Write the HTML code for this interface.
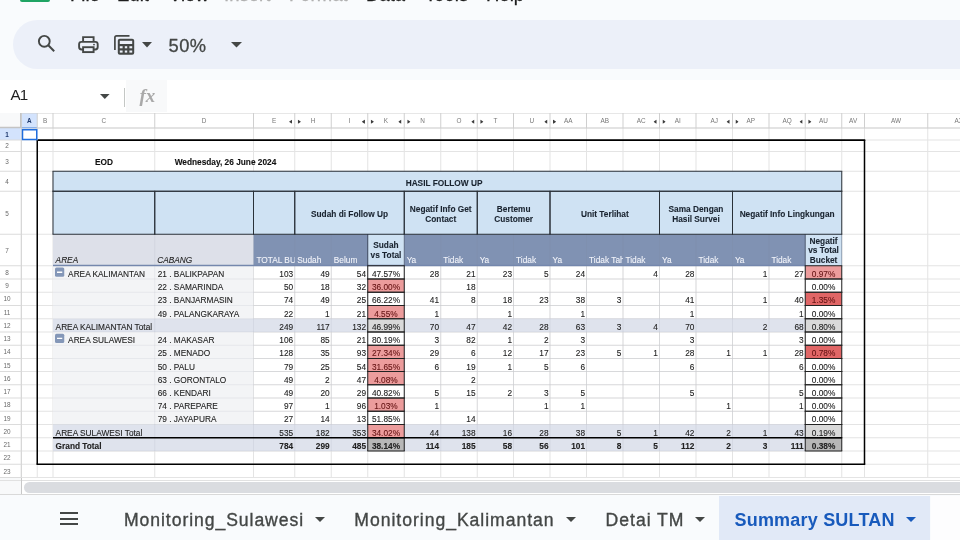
<!DOCTYPE html>
<html><head><meta charset="utf-8"><title>Sheet</title>
<style>
html,body{margin:0;padding:0;}
body{width:960px;height:540px;overflow:hidden;position:relative;background:#f9fbfd;font-family:"Liberation Sans",sans-serif;}
#top,#sheet,#bottom{position:absolute;left:0;width:960px;overflow:hidden;}
#top{top:0;height:113px;will-change:transform;}
#bottom{will-change:transform;}
#sheetwrap{position:absolute;left:0;top:0;width:960px;height:478px;overflow:hidden;will-change:transform;}
#sheet{top:0;width:3840px;height:1912px;transform:scale(0.25);transform-origin:0 0;}
#sheet div,#sheet svg,#top div,#top svg,#bottom div,#bottom svg{position:absolute;}
#sheet span{display:block;}
#sheetbg{left:0;top:113px;width:960px;height:365px;background:#fff;}
.menu{top:-14.6px;font-size:18.5px;line-height:20px;color:#1f1f1f;white-space:nowrap;-webkit-text-stroke:0.3px #1f1f1f;}
.menu.dim{-webkit-text-stroke:0.3px #b0b0b0;}
.menu.dim{color:#b0b0b0;}
.tab{top:0;height:45px;line-height:50.6px;font-size:17.6px;color:#444746;white-space:nowrap;letter-spacing:0.97px;-webkit-text-stroke:0.35px #444746;}
</style></head><body>
<div id="sheetwrap"><div id="sheet">
<div style="left:0;top:452px;width:3840px;height:1460px;background:#fff"></div>
<div style="left:82.8px;top:512px;width:4px;height:1398.16px;background:#e4e4e4"></div>
<div style="left:146.8px;top:512px;width:4px;height:1398.16px;background:#e4e4e4"></div>
<div style="left:210.4px;top:512px;width:4px;height:1398.16px;background:#e4e4e4"></div>
<div style="left:616.8px;top:512px;width:4px;height:1398.16px;background:#e4e4e4"></div>
<div style="left:1011.6px;top:512px;width:4px;height:1398.16px;background:#e4e4e4"></div>
<div style="left:1177.2px;top:512px;width:4px;height:1398.16px;background:#e4e4e4"></div>
<div style="left:1323.2px;top:512px;width:4px;height:1398.16px;background:#e4e4e4"></div>
<div style="left:1468.8px;top:512px;width:4px;height:1398.16px;background:#e4e4e4"></div>
<div style="left:1614.8px;top:512px;width:4px;height:1398.16px;background:#e4e4e4"></div>
<div style="left:1760.8px;top:512px;width:4px;height:1398.16px;background:#e4e4e4"></div>
<div style="left:1906.8px;top:512px;width:4px;height:1398.16px;background:#e4e4e4"></div>
<div style="left:2052.4px;top:512px;width:4px;height:1398.16px;background:#e4e4e4"></div>
<div style="left:2198.4px;top:512px;width:4px;height:1398.16px;background:#e4e4e4"></div>
<div style="left:2344.4px;top:512px;width:4px;height:1398.16px;background:#e4e4e4"></div>
<div style="left:2490px;top:512px;width:4px;height:1398.16px;background:#e4e4e4"></div>
<div style="left:2636px;top:512px;width:4px;height:1398.16px;background:#e4e4e4"></div>
<div style="left:2782px;top:512px;width:4px;height:1398.16px;background:#e4e4e4"></div>
<div style="left:2927.6px;top:512px;width:4px;height:1398.16px;background:#e4e4e4"></div>
<div style="left:3073.6px;top:512px;width:4px;height:1398.16px;background:#e4e4e4"></div>
<div style="left:3219.2px;top:512px;width:4px;height:1398.16px;background:#e4e4e4"></div>
<div style="left:3365.2px;top:512px;width:4px;height:1398.16px;background:#e4e4e4"></div>
<div style="left:3456px;top:512px;width:4px;height:1398.16px;background:#e4e4e4"></div>
<div style="left:3708.8px;top:512px;width:4px;height:1398.16px;background:#e4e4e4"></div>
<div style="left:84px;top:558.4px;width:3756px;height:4px;background:#e4e4e4"></div>
<div style="left:84px;top:603.6px;width:3756px;height:4px;background:#e4e4e4"></div>
<div style="left:84px;top:682.8px;width:3756px;height:4px;background:#e4e4e4"></div>
<div style="left:84px;top:763.2px;width:3756px;height:4px;background:#e4e4e4"></div>
<div style="left:84px;top:935.2px;width:3756px;height:4px;background:#e4e4e4"></div>
<div style="left:84px;top:1060.8px;width:3756px;height:4px;background:#e4e4e4"></div>
<div style="left:84px;top:1113.76px;width:3756px;height:4px;background:#e4e4e4"></div>
<div style="left:84px;top:1166.72px;width:3756px;height:4px;background:#e4e4e4"></div>
<div style="left:84px;top:1219.68px;width:3756px;height:4px;background:#e4e4e4"></div>
<div style="left:84px;top:1272.64px;width:3756px;height:4px;background:#e4e4e4"></div>
<div style="left:84px;top:1325.6px;width:3756px;height:4px;background:#e4e4e4"></div>
<div style="left:84px;top:1378.56px;width:3756px;height:4px;background:#e4e4e4"></div>
<div style="left:84px;top:1431.52px;width:3756px;height:4px;background:#e4e4e4"></div>
<div style="left:84px;top:1484.48px;width:3756px;height:4px;background:#e4e4e4"></div>
<div style="left:84px;top:1537.44px;width:3756px;height:4px;background:#e4e4e4"></div>
<div style="left:84px;top:1590.4px;width:3756px;height:4px;background:#e4e4e4"></div>
<div style="left:84px;top:1643.36px;width:3756px;height:4px;background:#e4e4e4"></div>
<div style="left:84px;top:1696.32px;width:3756px;height:4px;background:#e4e4e4"></div>
<div style="left:84px;top:1749.28px;width:3756px;height:4px;background:#e4e4e4"></div>
<div style="left:84px;top:1802.24px;width:3756px;height:4px;background:#e4e4e4"></div>
<div style="left:84px;top:1855.2px;width:3756px;height:4px;background:#e4e4e4"></div>
<div style="left:84px;top:1908.16px;width:3756px;height:4px;background:#e4e4e4"></div>
<div style="left:212.4px;top:684.8px;width:3154.8px;height:252.4px;background:#cfe2f3"></div>
<div style="left:212.4px;top:937.2px;width:801.2px;height:125.6px;background:#dde0e9"></div>
<div style="left:1013.6px;top:937.2px;width:2353.6px;height:125.6px;background:#8092b3"></div>
<div style="left:1470.8px;top:937.2px;width:146px;height:125.6px;background:#cfe2f3"></div>
<div style="left:3221.2px;top:937.2px;width:146px;height:125.6px;background:#cfe2f3"></div>
<div style="left:212.4px;top:1062.8px;width:801.2px;height:635.52px;background:#f3f4f6"></div>
<div style="left:212.4px;top:1274.64px;width:3154.8px;height:52.96px;background:#dfe3ed"></div>
<div style="left:212.4px;top:1698.32px;width:3154.8px;height:52.96px;background:#dfe3ed"></div>
<div style="left:212.4px;top:1751.28px;width:3154.8px;height:52.96px;background:#dfe3ed"></div>
<div style="left:1470.8px;top:1115.76px;width:146px;height:52.96px;background:#ec9c9c"></div>
<div style="left:1470.8px;top:1221.68px;width:146px;height:52.96px;background:#ec9c9c"></div>
<div style="left:1470.8px;top:1380.56px;width:146px;height:52.96px;background:#ec9c9c"></div>
<div style="left:1470.8px;top:1433.52px;width:146px;height:52.96px;background:#ec9c9c"></div>
<div style="left:1470.8px;top:1486.48px;width:146px;height:52.96px;background:#ec9c9c"></div>
<div style="left:1470.8px;top:1592.4px;width:146px;height:52.96px;background:#ec9c9c"></div>
<div style="left:1470.8px;top:1698.32px;width:146px;height:52.96px;background:#ec9c9c"></div>
<div style="left:1470.8px;top:1274.64px;width:146px;height:52.96px;background:#d9d9d9"></div>
<div style="left:1470.8px;top:1751.28px;width:146px;height:52.96px;background:#b7b7b7"></div>
<div style="left:3221.2px;top:1062.8px;width:146px;height:52.96px;background:#ec9c9c"></div>
<div style="left:3221.2px;top:1168.72px;width:146px;height:52.96px;background:#e06666"></div>
<div style="left:3221.2px;top:1380.56px;width:146px;height:52.96px;background:#e06666"></div>
<div style="left:3221.2px;top:1115.76px;width:146px;height:52.96px;background:#ffffff"></div>
<div style="left:3221.2px;top:1221.68px;width:146px;height:52.96px;background:#ffffff"></div>
<div style="left:3221.2px;top:1327.6px;width:146px;height:52.96px;background:#ffffff"></div>
<div style="left:3221.2px;top:1433.52px;width:146px;height:52.96px;background:#ffffff"></div>
<div style="left:3221.2px;top:1486.48px;width:146px;height:52.96px;background:#ffffff"></div>
<div style="left:3221.2px;top:1539.44px;width:146px;height:52.96px;background:#ffffff"></div>
<div style="left:3221.2px;top:1592.4px;width:146px;height:52.96px;background:#ffffff"></div>
<div style="left:3221.2px;top:1645.36px;width:146px;height:52.96px;background:#ffffff"></div>
<div style="left:1470.8px;top:1062.8px;width:146px;height:52.96px;background:#ffffff"></div>
<div style="left:1470.8px;top:1168.72px;width:146px;height:52.96px;background:#ffffff"></div>
<div style="left:1470.8px;top:1327.6px;width:146px;height:52.96px;background:#ffffff"></div>
<div style="left:1470.8px;top:1539.44px;width:146px;height:52.96px;background:#ffffff"></div>
<div style="left:1470.8px;top:1645.36px;width:146px;height:52.96px;background:#ffffff"></div>
<div style="left:3221.2px;top:1274.64px;width:146px;height:52.96px;background:#d9d9d9"></div>
<div style="left:3221.2px;top:1698.32px;width:146px;height:52.96px;background:#d9d9d9"></div>
<div style="left:3221.2px;top:1751.28px;width:146px;height:52.96px;background:#b7b7b7"></div>
<div style="left:212.4px;top:1113.76px;width:3154.8px;height:4px;background:rgba(120,130,150,0.10)"></div>
<div style="left:212.4px;top:1166.72px;width:3154.8px;height:4px;background:rgba(120,130,150,0.10)"></div>
<div style="left:212.4px;top:1219.68px;width:3154.8px;height:4px;background:rgba(120,130,150,0.10)"></div>
<div style="left:212.4px;top:1272.64px;width:3154.8px;height:4px;background:rgba(120,130,150,0.10)"></div>
<div style="left:212.4px;top:1325.6px;width:3154.8px;height:4px;background:rgba(120,130,150,0.10)"></div>
<div style="left:212.4px;top:1378.56px;width:3154.8px;height:4px;background:rgba(120,130,150,0.10)"></div>
<div style="left:212.4px;top:1431.52px;width:3154.8px;height:4px;background:rgba(120,130,150,0.10)"></div>
<div style="left:212.4px;top:1484.48px;width:3154.8px;height:4px;background:rgba(120,130,150,0.10)"></div>
<div style="left:212.4px;top:1537.44px;width:3154.8px;height:4px;background:rgba(120,130,150,0.10)"></div>
<div style="left:212.4px;top:1590.4px;width:3154.8px;height:4px;background:rgba(120,130,150,0.10)"></div>
<div style="left:212.4px;top:1643.36px;width:3154.8px;height:4px;background:rgba(120,130,150,0.10)"></div>
<div style="left:212.4px;top:1696.32px;width:3154.8px;height:4px;background:rgba(120,130,150,0.10)"></div>
<div style="left:212.4px;top:1749.28px;width:3154.8px;height:4px;background:rgba(120,130,150,0.10)"></div>
<div style="left:212.4px;top:1802.24px;width:3154.8px;height:4px;background:rgba(120,130,150,0.10)"></div>
<div style="left:616.8px;top:937.2px;width:4px;height:867.04px;background:rgba(120,130,150,0.10)"></div>
<div style="left:1011.6px;top:937.2px;width:4px;height:867.04px;background:rgba(120,130,150,0.10)"></div>
<div style="left:1177.2px;top:937.2px;width:4px;height:867.04px;background:rgba(120,130,150,0.10)"></div>
<div style="left:1323.2px;top:937.2px;width:4px;height:867.04px;background:rgba(120,130,150,0.10)"></div>
<div style="left:1468.8px;top:937.2px;width:4px;height:867.04px;background:rgba(120,130,150,0.10)"></div>
<div style="left:1614.8px;top:937.2px;width:4px;height:867.04px;background:rgba(120,130,150,0.10)"></div>
<div style="left:1760.8px;top:937.2px;width:4px;height:867.04px;background:rgba(120,130,150,0.10)"></div>
<div style="left:1906.8px;top:937.2px;width:4px;height:867.04px;background:rgba(120,130,150,0.10)"></div>
<div style="left:2052.4px;top:937.2px;width:4px;height:867.04px;background:rgba(120,130,150,0.10)"></div>
<div style="left:2198.4px;top:937.2px;width:4px;height:867.04px;background:rgba(120,130,150,0.10)"></div>
<div style="left:2344.4px;top:937.2px;width:4px;height:867.04px;background:rgba(120,130,150,0.10)"></div>
<div style="left:2490px;top:937.2px;width:4px;height:867.04px;background:rgba(120,130,150,0.10)"></div>
<div style="left:2636px;top:937.2px;width:4px;height:867.04px;background:rgba(120,130,150,0.10)"></div>
<div style="left:2782px;top:937.2px;width:4px;height:867.04px;background:rgba(120,130,150,0.10)"></div>
<div style="left:2927.6px;top:937.2px;width:4px;height:867.04px;background:rgba(120,130,150,0.10)"></div>
<div style="left:3073.6px;top:937.2px;width:4px;height:867.04px;background:rgba(120,130,150,0.10)"></div>
<div style="left:3219.2px;top:937.2px;width:4px;height:867.04px;background:rgba(120,130,150,0.10)"></div>
<div style="left:212.4px;top:1058.6px;width:3008.8px;height:6px;background:#7487ad"></div>
<div style="left:210.4px;top:682.8px;width:3158.8px;height:4px;background:#2a3138"></div>
<div style="left:210.4px;top:763.2px;width:3158.8px;height:4px;background:#2a3138"></div>
<div style="left:210.4px;top:684.8px;width:4px;height:80.4px;background:#2a3138"></div>
<div style="left:3365.2px;top:684.8px;width:4px;height:80.4px;background:#2a3138"></div>
<div style="left:210.4px;top:763.2px;width:410.4px;height:4px;background:#2a3138"></div>
<div style="left:210.4px;top:935.2px;width:410.4px;height:4px;background:#2a3138"></div>
<div style="left:210.4px;top:765.2px;width:4px;height:172px;background:#2a3138"></div>
<div style="left:616.8px;top:765.2px;width:4px;height:172px;background:#2a3138"></div>
<div style="left:616.8px;top:763.2px;width:398.8px;height:4px;background:#2a3138"></div>
<div style="left:616.8px;top:935.2px;width:398.8px;height:4px;background:#2a3138"></div>
<div style="left:616.8px;top:765.2px;width:4px;height:172px;background:#2a3138"></div>
<div style="left:1011.6px;top:765.2px;width:4px;height:172px;background:#2a3138"></div>
<div style="left:1011.6px;top:763.2px;width:169.6px;height:4px;background:#2a3138"></div>
<div style="left:1011.6px;top:935.2px;width:169.6px;height:4px;background:#2a3138"></div>
<div style="left:1011.6px;top:765.2px;width:4px;height:172px;background:#2a3138"></div>
<div style="left:1177.2px;top:765.2px;width:4px;height:172px;background:#2a3138"></div>
<div style="left:1177.2px;top:763.2px;width:441.6px;height:4px;background:#2a3138"></div>
<div style="left:1177.2px;top:935.2px;width:441.6px;height:4px;background:#2a3138"></div>
<div style="left:1177.2px;top:765.2px;width:4px;height:172px;background:#2a3138"></div>
<div style="left:1614.8px;top:765.2px;width:4px;height:172px;background:#2a3138"></div>
<div style="left:1614.8px;top:763.2px;width:296px;height:4px;background:#2a3138"></div>
<div style="left:1614.8px;top:935.2px;width:296px;height:4px;background:#2a3138"></div>
<div style="left:1614.8px;top:765.2px;width:4px;height:172px;background:#2a3138"></div>
<div style="left:1906.8px;top:765.2px;width:4px;height:172px;background:#2a3138"></div>
<div style="left:1906.8px;top:763.2px;width:295.6px;height:4px;background:#2a3138"></div>
<div style="left:1906.8px;top:935.2px;width:295.6px;height:4px;background:#2a3138"></div>
<div style="left:1906.8px;top:765.2px;width:4px;height:172px;background:#2a3138"></div>
<div style="left:2198.4px;top:765.2px;width:4px;height:172px;background:#2a3138"></div>
<div style="left:2198.4px;top:763.2px;width:441.6px;height:4px;background:#2a3138"></div>
<div style="left:2198.4px;top:935.2px;width:441.6px;height:4px;background:#2a3138"></div>
<div style="left:2198.4px;top:765.2px;width:4px;height:172px;background:#2a3138"></div>
<div style="left:2636px;top:765.2px;width:4px;height:172px;background:#2a3138"></div>
<div style="left:2636px;top:763.2px;width:295.6px;height:4px;background:#2a3138"></div>
<div style="left:2636px;top:935.2px;width:295.6px;height:4px;background:#2a3138"></div>
<div style="left:2636px;top:765.2px;width:4px;height:172px;background:#2a3138"></div>
<div style="left:2927.6px;top:765.2px;width:4px;height:172px;background:#2a3138"></div>
<div style="left:2927.6px;top:763.2px;width:441.6px;height:4px;background:#2a3138"></div>
<div style="left:2927.6px;top:935.2px;width:441.6px;height:4px;background:#2a3138"></div>
<div style="left:2927.6px;top:765.2px;width:4px;height:172px;background:#2a3138"></div>
<div style="left:3365.2px;top:765.2px;width:4px;height:172px;background:#2a3138"></div>
<div style="left:1468.8px;top:1060.8px;width:150px;height:4px;background:#222"></div>
<div style="left:1468.8px;top:1113.76px;width:150px;height:4px;background:#222"></div>
<div style="left:1468.8px;top:1062.8px;width:4px;height:52.96px;background:#222"></div>
<div style="left:1614.8px;top:1062.8px;width:4px;height:52.96px;background:#222"></div>
<div style="left:3219.2px;top:1060.8px;width:150px;height:4px;background:#222"></div>
<div style="left:3219.2px;top:1113.76px;width:150px;height:4px;background:#222"></div>
<div style="left:3219.2px;top:1062.8px;width:4px;height:52.96px;background:#222"></div>
<div style="left:3365.2px;top:1062.8px;width:4px;height:52.96px;background:#222"></div>
<div style="left:1468.8px;top:1113.76px;width:150px;height:4px;background:#222"></div>
<div style="left:1468.8px;top:1166.72px;width:150px;height:4px;background:#222"></div>
<div style="left:1468.8px;top:1115.76px;width:4px;height:52.96px;background:#222"></div>
<div style="left:1614.8px;top:1115.76px;width:4px;height:52.96px;background:#222"></div>
<div style="left:3219.2px;top:1113.76px;width:150px;height:4px;background:#222"></div>
<div style="left:3219.2px;top:1166.72px;width:150px;height:4px;background:#222"></div>
<div style="left:3219.2px;top:1115.76px;width:4px;height:52.96px;background:#222"></div>
<div style="left:3365.2px;top:1115.76px;width:4px;height:52.96px;background:#222"></div>
<div style="left:1468.8px;top:1166.72px;width:150px;height:4px;background:#222"></div>
<div style="left:1468.8px;top:1219.68px;width:150px;height:4px;background:#222"></div>
<div style="left:1468.8px;top:1168.72px;width:4px;height:52.96px;background:#222"></div>
<div style="left:1614.8px;top:1168.72px;width:4px;height:52.96px;background:#222"></div>
<div style="left:3219.2px;top:1166.72px;width:150px;height:4px;background:#222"></div>
<div style="left:3219.2px;top:1219.68px;width:150px;height:4px;background:#222"></div>
<div style="left:3219.2px;top:1168.72px;width:4px;height:52.96px;background:#222"></div>
<div style="left:3365.2px;top:1168.72px;width:4px;height:52.96px;background:#222"></div>
<div style="left:1468.8px;top:1219.68px;width:150px;height:4px;background:#222"></div>
<div style="left:1468.8px;top:1272.64px;width:150px;height:4px;background:#222"></div>
<div style="left:1468.8px;top:1221.68px;width:4px;height:52.96px;background:#222"></div>
<div style="left:1614.8px;top:1221.68px;width:4px;height:52.96px;background:#222"></div>
<div style="left:3219.2px;top:1219.68px;width:150px;height:4px;background:#222"></div>
<div style="left:3219.2px;top:1272.64px;width:150px;height:4px;background:#222"></div>
<div style="left:3219.2px;top:1221.68px;width:4px;height:52.96px;background:#222"></div>
<div style="left:3365.2px;top:1221.68px;width:4px;height:52.96px;background:#222"></div>
<div style="left:1468.8px;top:1272.64px;width:150px;height:4px;background:#222"></div>
<div style="left:1468.8px;top:1325.6px;width:150px;height:4px;background:#222"></div>
<div style="left:1468.8px;top:1274.64px;width:4px;height:52.96px;background:#222"></div>
<div style="left:1614.8px;top:1274.64px;width:4px;height:52.96px;background:#222"></div>
<div style="left:3219.2px;top:1272.64px;width:150px;height:4px;background:#222"></div>
<div style="left:3219.2px;top:1325.6px;width:150px;height:4px;background:#222"></div>
<div style="left:3219.2px;top:1274.64px;width:4px;height:52.96px;background:#222"></div>
<div style="left:3365.2px;top:1274.64px;width:4px;height:52.96px;background:#222"></div>
<div style="left:1468.8px;top:1325.6px;width:150px;height:4px;background:#222"></div>
<div style="left:1468.8px;top:1378.56px;width:150px;height:4px;background:#222"></div>
<div style="left:1468.8px;top:1327.6px;width:4px;height:52.96px;background:#222"></div>
<div style="left:1614.8px;top:1327.6px;width:4px;height:52.96px;background:#222"></div>
<div style="left:3219.2px;top:1325.6px;width:150px;height:4px;background:#222"></div>
<div style="left:3219.2px;top:1378.56px;width:150px;height:4px;background:#222"></div>
<div style="left:3219.2px;top:1327.6px;width:4px;height:52.96px;background:#222"></div>
<div style="left:3365.2px;top:1327.6px;width:4px;height:52.96px;background:#222"></div>
<div style="left:1468.8px;top:1378.56px;width:150px;height:4px;background:#222"></div>
<div style="left:1468.8px;top:1431.52px;width:150px;height:4px;background:#222"></div>
<div style="left:1468.8px;top:1380.56px;width:4px;height:52.96px;background:#222"></div>
<div style="left:1614.8px;top:1380.56px;width:4px;height:52.96px;background:#222"></div>
<div style="left:3219.2px;top:1378.56px;width:150px;height:4px;background:#222"></div>
<div style="left:3219.2px;top:1431.52px;width:150px;height:4px;background:#222"></div>
<div style="left:3219.2px;top:1380.56px;width:4px;height:52.96px;background:#222"></div>
<div style="left:3365.2px;top:1380.56px;width:4px;height:52.96px;background:#222"></div>
<div style="left:1468.8px;top:1431.52px;width:150px;height:4px;background:#222"></div>
<div style="left:1468.8px;top:1484.48px;width:150px;height:4px;background:#222"></div>
<div style="left:1468.8px;top:1433.52px;width:4px;height:52.96px;background:#222"></div>
<div style="left:1614.8px;top:1433.52px;width:4px;height:52.96px;background:#222"></div>
<div style="left:3219.2px;top:1431.52px;width:150px;height:4px;background:#222"></div>
<div style="left:3219.2px;top:1484.48px;width:150px;height:4px;background:#222"></div>
<div style="left:3219.2px;top:1433.52px;width:4px;height:52.96px;background:#222"></div>
<div style="left:3365.2px;top:1433.52px;width:4px;height:52.96px;background:#222"></div>
<div style="left:1468.8px;top:1484.48px;width:150px;height:4px;background:#222"></div>
<div style="left:1468.8px;top:1537.44px;width:150px;height:4px;background:#222"></div>
<div style="left:1468.8px;top:1486.48px;width:4px;height:52.96px;background:#222"></div>
<div style="left:1614.8px;top:1486.48px;width:4px;height:52.96px;background:#222"></div>
<div style="left:3219.2px;top:1484.48px;width:150px;height:4px;background:#222"></div>
<div style="left:3219.2px;top:1537.44px;width:150px;height:4px;background:#222"></div>
<div style="left:3219.2px;top:1486.48px;width:4px;height:52.96px;background:#222"></div>
<div style="left:3365.2px;top:1486.48px;width:4px;height:52.96px;background:#222"></div>
<div style="left:1468.8px;top:1537.44px;width:150px;height:4px;background:#222"></div>
<div style="left:1468.8px;top:1590.4px;width:150px;height:4px;background:#222"></div>
<div style="left:1468.8px;top:1539.44px;width:4px;height:52.96px;background:#222"></div>
<div style="left:1614.8px;top:1539.44px;width:4px;height:52.96px;background:#222"></div>
<div style="left:3219.2px;top:1537.44px;width:150px;height:4px;background:#222"></div>
<div style="left:3219.2px;top:1590.4px;width:150px;height:4px;background:#222"></div>
<div style="left:3219.2px;top:1539.44px;width:4px;height:52.96px;background:#222"></div>
<div style="left:3365.2px;top:1539.44px;width:4px;height:52.96px;background:#222"></div>
<div style="left:1468.8px;top:1590.4px;width:150px;height:4px;background:#222"></div>
<div style="left:1468.8px;top:1643.36px;width:150px;height:4px;background:#222"></div>
<div style="left:1468.8px;top:1592.4px;width:4px;height:52.96px;background:#222"></div>
<div style="left:1614.8px;top:1592.4px;width:4px;height:52.96px;background:#222"></div>
<div style="left:3219.2px;top:1590.4px;width:150px;height:4px;background:#222"></div>
<div style="left:3219.2px;top:1643.36px;width:150px;height:4px;background:#222"></div>
<div style="left:3219.2px;top:1592.4px;width:4px;height:52.96px;background:#222"></div>
<div style="left:3365.2px;top:1592.4px;width:4px;height:52.96px;background:#222"></div>
<div style="left:1468.8px;top:1643.36px;width:150px;height:4px;background:#222"></div>
<div style="left:1468.8px;top:1696.32px;width:150px;height:4px;background:#222"></div>
<div style="left:1468.8px;top:1645.36px;width:4px;height:52.96px;background:#222"></div>
<div style="left:1614.8px;top:1645.36px;width:4px;height:52.96px;background:#222"></div>
<div style="left:3219.2px;top:1643.36px;width:150px;height:4px;background:#222"></div>
<div style="left:3219.2px;top:1696.32px;width:150px;height:4px;background:#222"></div>
<div style="left:3219.2px;top:1645.36px;width:4px;height:52.96px;background:#222"></div>
<div style="left:3365.2px;top:1645.36px;width:4px;height:52.96px;background:#222"></div>
<div style="left:1468.8px;top:1696.32px;width:150px;height:4px;background:#222"></div>
<div style="left:1468.8px;top:1749.28px;width:150px;height:4px;background:#222"></div>
<div style="left:1468.8px;top:1698.32px;width:4px;height:52.96px;background:#222"></div>
<div style="left:1614.8px;top:1698.32px;width:4px;height:52.96px;background:#222"></div>
<div style="left:3219.2px;top:1696.32px;width:150px;height:4px;background:#222"></div>
<div style="left:3219.2px;top:1749.28px;width:150px;height:4px;background:#222"></div>
<div style="left:3219.2px;top:1698.32px;width:4px;height:52.96px;background:#222"></div>
<div style="left:3365.2px;top:1698.32px;width:4px;height:52.96px;background:#222"></div>
<div style="left:1468.8px;top:1749.28px;width:150px;height:4px;background:#222"></div>
<div style="left:1468.8px;top:1802.24px;width:150px;height:4px;background:#222"></div>
<div style="left:1468.8px;top:1751.28px;width:4px;height:52.96px;background:#222"></div>
<div style="left:1614.8px;top:1751.28px;width:4px;height:52.96px;background:#222"></div>
<div style="left:3219.2px;top:1749.28px;width:150px;height:4px;background:#222"></div>
<div style="left:3219.2px;top:1802.24px;width:150px;height:4px;background:#222"></div>
<div style="left:3219.2px;top:1751.28px;width:4px;height:52.96px;background:#222"></div>
<div style="left:3365.2px;top:1751.28px;width:4px;height:52.96px;background:#222"></div>
<div style="left:1468.8px;top:937.2px;width:4px;height:125.6px;background:rgba(30,40,60,0.75)"></div>
<div style="left:1614.8px;top:937.2px;width:4px;height:125.6px;background:rgba(30,40,60,0.45)"></div>
<div style="left:3219.2px;top:937.2px;width:4px;height:125.6px;background:rgba(30,40,60,0.6)"></div>
<div style="left:3365.2px;top:937.2px;width:4px;height:125.6px;background:rgba(30,40,60,0.3)"></div>
<div style="left:212.4px;top:1748.08px;width:3154.8px;height:6.4px;background:#000"></div>
<div style="left:145.6px;top:557.2px;width:3315.6px;height:6.4px;background:#000"></div>
<div style="left:145.6px;top:1854px;width:3315.6px;height:6.4px;background:#000"></div>
<div style="left:145.6px;top:560.4px;width:6.4px;height:1296.8px;background:#000"></div>
<div style="left:3454.8px;top:560.4px;width:6.4px;height:1296.8px;background:#000"></div>
<div style="left:212.4px;top:605.6px;width:406.4px;height:79.2px;-webkit-text-stroke:0.4px #111;display:flex;justify-content:center;align-items:center;text-align:center;font-size:33.2px;line-height:38.16px;color:#111;padding:0 10px 0px 10px;box-sizing:border-box;white-space:nowrap;overflow:visible;font-weight:bold;"><span style="position:relative;top:4px;left:0px">EOD</span></div>
<div style="left:618.8px;top:605.6px;width:560.4px;height:79.2px;-webkit-text-stroke:0.4px #111;display:flex;justify-content:center;align-items:center;text-align:center;font-size:33.2px;line-height:38.16px;color:#111;padding:0 10px 0px 10px;box-sizing:border-box;white-space:nowrap;overflow:visible;font-weight:bold;"><span style="position:relative;top:4px;left:2.8px">Wednesday, 26 June 2024</span></div>
<div style="left:212.4px;top:684.8px;width:3154.8px;height:80.4px;-webkit-text-stroke:0.4px #1a2430;display:flex;justify-content:center;align-items:center;text-align:center;font-size:33.2px;line-height:38.16px;color:#1a2430;padding:0 10px 0px 10px;box-sizing:border-box;white-space:nowrap;overflow:visible;font-weight:bold;"><span style="position:relative;top:8px;left:-13.6px">HASIL FOLLOW UP</span></div>
<div style="left:1179.2px;top:765.2px;width:437.6px;height:172px;-webkit-text-stroke:0.4px #1a2430;display:flex;justify-content:center;align-items:center;text-align:center;font-size:33.2px;line-height:38.16px;color:#1a2430;padding:0 10px 0px 10px;box-sizing:border-box;white-space:nowrap;overflow:visible;font-weight:bold;"><span style="position:relative;top:4px;left:0px">Sudah di Follow Up</span></div>
<div style="left:1616.8px;top:765.2px;width:292px;height:172px;-webkit-text-stroke:0.4px #1a2430;display:flex;justify-content:center;align-items:center;text-align:center;font-size:33.2px;line-height:40px;color:#1a2430;padding:0 10px 0px 10px;box-sizing:border-box;white-space:nowrap;overflow:visible;font-weight:bold;"><span style="position:relative;top:4px;left:0px">Negatif Info Get<br>Contact</span></div>
<div style="left:1908.8px;top:765.2px;width:291.6px;height:172px;-webkit-text-stroke:0.4px #1a2430;display:flex;justify-content:center;align-items:center;text-align:center;font-size:33.2px;line-height:40px;color:#1a2430;padding:0 10px 0px 10px;box-sizing:border-box;white-space:nowrap;overflow:visible;font-weight:bold;"><span style="position:relative;top:4px;left:0px">Bertemu<br>Customer</span></div>
<div style="left:2200.4px;top:765.2px;width:437.6px;height:172px;-webkit-text-stroke:0.4px #1a2430;display:flex;justify-content:center;align-items:center;text-align:center;font-size:33.2px;line-height:38.16px;color:#1a2430;padding:0 10px 0px 10px;box-sizing:border-box;white-space:nowrap;overflow:visible;font-weight:bold;"><span style="position:relative;top:4px;left:0px">Unit Terlihat</span></div>
<div style="left:2638px;top:765.2px;width:291.6px;height:172px;-webkit-text-stroke:0.4px #1a2430;display:flex;justify-content:center;align-items:center;text-align:center;font-size:33.2px;line-height:40px;color:#1a2430;padding:0 10px 0px 10px;box-sizing:border-box;white-space:nowrap;overflow:visible;font-weight:bold;"><span style="position:relative;top:4px;left:0px">Sama Dengan<br>Hasil Survei</span></div>
<div style="left:2929.6px;top:765.2px;width:437.6px;height:172px;-webkit-text-stroke:0.4px #1a2430;display:flex;justify-content:center;align-items:center;text-align:center;font-size:33.2px;line-height:38.16px;color:#1a2430;padding:0 10px 0px 10px;box-sizing:border-box;white-space:nowrap;overflow:visible;font-weight:bold;"><span style="position:relative;top:4px;left:0px">Negatif Info Lingkungan</span></div>
<div style="left:212.4px;top:937.2px;width:406.4px;height:125.6px;-webkit-text-stroke:0.4px #222;display:flex;justify-content:flex-start;align-items:flex-end;text-align:left;font-size:33.2px;line-height:38.16px;color:#222;padding:0 10px 1.2px 10px;box-sizing:border-box;white-space:nowrap;overflow:visible;font-style:italic;overflow:hidden;"><span style="position:relative;top:-0.8px;left:0px">AREA</span></div>
<div style="left:618.8px;top:937.2px;width:394.8px;height:125.6px;-webkit-text-stroke:0.4px #222;display:flex;justify-content:flex-start;align-items:flex-end;text-align:left;font-size:33.2px;line-height:38.16px;color:#222;padding:0 10px 1.2px 10px;box-sizing:border-box;white-space:nowrap;overflow:visible;font-style:italic;overflow:hidden;"><span style="position:relative;top:-0.8px;left:0px">CABANG</span></div>
<div style="left:1013.6px;top:937.2px;width:165.6px;height:125.6px;-webkit-text-stroke:0.4px #f2f4fa;display:flex;justify-content:flex-start;align-items:flex-end;text-align:left;font-size:33.2px;line-height:38.16px;color:#f2f4fa;padding:0 12px 1.2px 12px;box-sizing:border-box;white-space:nowrap;overflow:visible;overflow:hidden;"><span style="position:relative;top:-0.8px;left:0px">TOTAL BU</span></div>
<div style="left:1179.2px;top:937.2px;width:146px;height:125.6px;-webkit-text-stroke:0.4px #f2f4fa;display:flex;justify-content:flex-start;align-items:flex-end;text-align:left;font-size:33.2px;line-height:38.16px;color:#f2f4fa;padding:0 10px 1.2px 10px;box-sizing:border-box;white-space:nowrap;overflow:visible;overflow:hidden;"><span style="position:relative;top:-0.8px;left:0px">Sudah</span></div>
<div style="left:1325.2px;top:937.2px;width:145.6px;height:125.6px;-webkit-text-stroke:0.4px #f2f4fa;display:flex;justify-content:flex-start;align-items:flex-end;text-align:left;font-size:33.2px;line-height:38.16px;color:#f2f4fa;padding:0 10px 1.2px 10px;box-sizing:border-box;white-space:nowrap;overflow:visible;overflow:hidden;"><span style="position:relative;top:-0.8px;left:0px">Belum</span></div>
<div style="left:1470.8px;top:937.2px;width:146px;height:125.6px;-webkit-text-stroke:0.4px #1a2430;display:flex;justify-content:center;align-items:flex-end;text-align:center;font-size:33.2px;line-height:38.8px;color:#1a2430;padding:0 10px 22.4px 10px;box-sizing:border-box;white-space:nowrap;overflow:visible;font-weight:bold;"><span style="position:relative;top:-0.8px;left:0px">Sudah<br>vs Total</span></div>
<div style="left:1616.8px;top:937.2px;width:146px;height:125.6px;-webkit-text-stroke:0.4px #f2f4fa;display:flex;justify-content:flex-start;align-items:flex-end;text-align:left;font-size:33.2px;line-height:38.16px;color:#f2f4fa;padding:0 10px 1.2px 10px;box-sizing:border-box;white-space:nowrap;overflow:visible;overflow:hidden;"><span style="position:relative;top:-0.8px;left:0px">Ya</span></div>
<div style="left:1762.8px;top:937.2px;width:146px;height:125.6px;-webkit-text-stroke:0.4px #f2f4fa;display:flex;justify-content:flex-start;align-items:flex-end;text-align:left;font-size:33.2px;line-height:38.16px;color:#f2f4fa;padding:0 10px 1.2px 10px;box-sizing:border-box;white-space:nowrap;overflow:visible;overflow:hidden;"><span style="position:relative;top:-0.8px;left:0px">Tidak</span></div>
<div style="left:1908.8px;top:937.2px;width:145.6px;height:125.6px;-webkit-text-stroke:0.4px #f2f4fa;display:flex;justify-content:flex-start;align-items:flex-end;text-align:left;font-size:33.2px;line-height:38.16px;color:#f2f4fa;padding:0 10px 1.2px 10px;box-sizing:border-box;white-space:nowrap;overflow:visible;overflow:hidden;"><span style="position:relative;top:-0.8px;left:0px">Ya</span></div>
<div style="left:2054.4px;top:937.2px;width:146px;height:125.6px;-webkit-text-stroke:0.4px #f2f4fa;display:flex;justify-content:flex-start;align-items:flex-end;text-align:left;font-size:33.2px;line-height:38.16px;color:#f2f4fa;padding:0 10px 1.2px 10px;box-sizing:border-box;white-space:nowrap;overflow:visible;overflow:hidden;"><span style="position:relative;top:-0.8px;left:0px">Tidak</span></div>
<div style="left:2200.4px;top:937.2px;width:146px;height:125.6px;-webkit-text-stroke:0.4px #f2f4fa;display:flex;justify-content:flex-start;align-items:flex-end;text-align:left;font-size:33.2px;line-height:38.16px;color:#f2f4fa;padding:0 10px 1.2px 10px;box-sizing:border-box;white-space:nowrap;overflow:visible;overflow:hidden;"><span style="position:relative;top:-0.8px;left:0px">Ya</span></div>
<div style="left:2346.4px;top:937.2px;width:145.6px;height:125.6px;-webkit-text-stroke:0.4px #f2f4fa;display:flex;justify-content:flex-start;align-items:flex-end;text-align:left;font-size:33.2px;line-height:38.16px;color:#f2f4fa;padding:0 10px 1.2px 10px;box-sizing:border-box;white-space:nowrap;overflow:visible;overflow:hidden;"><span style="position:relative;top:-0.8px;left:0px">Tidak Tah</span></div>
<div style="left:2492px;top:937.2px;width:146px;height:125.6px;-webkit-text-stroke:0.4px #f2f4fa;display:flex;justify-content:flex-start;align-items:flex-end;text-align:left;font-size:33.2px;line-height:38.16px;color:#f2f4fa;padding:0 10px 1.2px 10px;box-sizing:border-box;white-space:nowrap;overflow:visible;overflow:hidden;"><span style="position:relative;top:-0.8px;left:0px">Tidak</span></div>
<div style="left:2638px;top:937.2px;width:146px;height:125.6px;-webkit-text-stroke:0.4px #f2f4fa;display:flex;justify-content:flex-start;align-items:flex-end;text-align:left;font-size:33.2px;line-height:38.16px;color:#f2f4fa;padding:0 10px 1.2px 10px;box-sizing:border-box;white-space:nowrap;overflow:visible;overflow:hidden;"><span style="position:relative;top:-0.8px;left:0px">Ya</span></div>
<div style="left:2784px;top:937.2px;width:145.6px;height:125.6px;-webkit-text-stroke:0.4px #f2f4fa;display:flex;justify-content:flex-start;align-items:flex-end;text-align:left;font-size:33.2px;line-height:38.16px;color:#f2f4fa;padding:0 10px 1.2px 10px;box-sizing:border-box;white-space:nowrap;overflow:visible;overflow:hidden;"><span style="position:relative;top:-0.8px;left:0px">Tidak</span></div>
<div style="left:2929.6px;top:937.2px;width:146px;height:125.6px;-webkit-text-stroke:0.4px #f2f4fa;display:flex;justify-content:flex-start;align-items:flex-end;text-align:left;font-size:33.2px;line-height:38.16px;color:#f2f4fa;padding:0 10px 1.2px 10px;box-sizing:border-box;white-space:nowrap;overflow:visible;overflow:hidden;"><span style="position:relative;top:-0.8px;left:0px">Ya</span></div>
<div style="left:3075.6px;top:937.2px;width:145.6px;height:125.6px;-webkit-text-stroke:0.4px #f2f4fa;display:flex;justify-content:flex-start;align-items:flex-end;text-align:left;font-size:33.2px;line-height:38.16px;color:#f2f4fa;padding:0 10px 1.2px 10px;box-sizing:border-box;white-space:nowrap;overflow:visible;overflow:hidden;"><span style="position:relative;top:-0.8px;left:0px">Tidak</span></div>
<div style="left:3221.2px;top:937.2px;width:146px;height:125.6px;-webkit-text-stroke:0.4px #1a2430;display:flex;justify-content:center;align-items:flex-end;text-align:center;font-size:33.2px;line-height:39.2px;color:#1a2430;padding:0 10px 1.2px 10px;box-sizing:border-box;white-space:nowrap;overflow:visible;font-weight:bold;"><span style="position:relative;top:-0.8px;left:0px">Negatif<br>vs Total<br>Bucket</span></div>
<div style="left:220.4px;top:1070.4px;width:36.8px;height:36.8px;background:#8497b8;border-radius:6px;"><div style="left:8px;top:15.6px;width:20.8px;height:5.6px;background:#fff"></div></div>
<div style="left:212.4px;top:1062.8px;width:406.4px;height:52.96px;-webkit-text-stroke:0.4px #222;display:flex;justify-content:flex-start;align-items:flex-end;text-align:left;font-size:33.2px;line-height:38.16px;color:#222;padding:0 60px 0px 60px;box-sizing:border-box;white-space:nowrap;overflow:visible;"><span style="position:relative;top:-0.8px;left:0px">AREA KALIMANTAN</span></div>
<div style="left:618.8px;top:1062.8px;width:394.8px;height:52.96px;-webkit-text-stroke:0.4px #222;display:flex;justify-content:flex-start;align-items:flex-end;text-align:left;font-size:33.2px;line-height:38.16px;color:#222;padding:0 12px 0px 12px;box-sizing:border-box;white-space:nowrap;overflow:visible;"><span style="position:relative;top:-0.8px;left:0px">21 . BALIKPAPAN</span></div>
<div style="left:1013.6px;top:1062.8px;width:165.6px;height:52.96px;-webkit-text-stroke:0.4px #222;display:flex;justify-content:flex-end;align-items:flex-end;text-align:right;font-size:33.2px;line-height:38.16px;color:#222;padding:0 6.4px 0px 6.4px;box-sizing:border-box;white-space:nowrap;overflow:visible;"><span style="position:relative;top:-0.8px;left:0px">103</span></div>
<div style="left:1179.2px;top:1062.8px;width:146px;height:52.96px;-webkit-text-stroke:0.4px #222;display:flex;justify-content:flex-end;align-items:flex-end;text-align:right;font-size:33.2px;line-height:38.16px;color:#222;padding:0 6.4px 0px 6.4px;box-sizing:border-box;white-space:nowrap;overflow:visible;"><span style="position:relative;top:-0.8px;left:0px">49</span></div>
<div style="left:1325.2px;top:1062.8px;width:145.6px;height:52.96px;-webkit-text-stroke:0.4px #222;display:flex;justify-content:flex-end;align-items:flex-end;text-align:right;font-size:33.2px;line-height:38.16px;color:#222;padding:0 6.4px 0px 6.4px;box-sizing:border-box;white-space:nowrap;overflow:visible;"><span style="position:relative;top:-0.8px;left:0px">54</span></div>
<div style="left:1470.8px;top:1062.8px;width:146px;height:52.96px;-webkit-text-stroke:0.4px #222;display:flex;justify-content:center;align-items:flex-end;text-align:center;font-size:33.2px;line-height:38.16px;color:#222;padding:0 10px 0px 10px;box-sizing:border-box;white-space:nowrap;overflow:visible;"><span style="position:relative;top:-0.8px;left:0px">47.57%</span></div>
<div style="left:1616.8px;top:1062.8px;width:146px;height:52.96px;-webkit-text-stroke:0.4px #222;display:flex;justify-content:flex-end;align-items:flex-end;text-align:right;font-size:33.2px;line-height:38.16px;color:#222;padding:0 6.4px 0px 6.4px;box-sizing:border-box;white-space:nowrap;overflow:visible;"><span style="position:relative;top:-0.8px;left:0px">28</span></div>
<div style="left:1762.8px;top:1062.8px;width:146px;height:52.96px;-webkit-text-stroke:0.4px #222;display:flex;justify-content:flex-end;align-items:flex-end;text-align:right;font-size:33.2px;line-height:38.16px;color:#222;padding:0 6.4px 0px 6.4px;box-sizing:border-box;white-space:nowrap;overflow:visible;"><span style="position:relative;top:-0.8px;left:0px">21</span></div>
<div style="left:1908.8px;top:1062.8px;width:145.6px;height:52.96px;-webkit-text-stroke:0.4px #222;display:flex;justify-content:flex-end;align-items:flex-end;text-align:right;font-size:33.2px;line-height:38.16px;color:#222;padding:0 6.4px 0px 6.4px;box-sizing:border-box;white-space:nowrap;overflow:visible;"><span style="position:relative;top:-0.8px;left:0px">23</span></div>
<div style="left:2054.4px;top:1062.8px;width:146px;height:52.96px;-webkit-text-stroke:0.4px #222;display:flex;justify-content:flex-end;align-items:flex-end;text-align:right;font-size:33.2px;line-height:38.16px;color:#222;padding:0 6.4px 0px 6.4px;box-sizing:border-box;white-space:nowrap;overflow:visible;"><span style="position:relative;top:-0.8px;left:0px">5</span></div>
<div style="left:2200.4px;top:1062.8px;width:146px;height:52.96px;-webkit-text-stroke:0.4px #222;display:flex;justify-content:flex-end;align-items:flex-end;text-align:right;font-size:33.2px;line-height:38.16px;color:#222;padding:0 6.4px 0px 6.4px;box-sizing:border-box;white-space:nowrap;overflow:visible;"><span style="position:relative;top:-0.8px;left:0px">24</span></div>
<div style="left:2492px;top:1062.8px;width:146px;height:52.96px;-webkit-text-stroke:0.4px #222;display:flex;justify-content:flex-end;align-items:flex-end;text-align:right;font-size:33.2px;line-height:38.16px;color:#222;padding:0 6.4px 0px 6.4px;box-sizing:border-box;white-space:nowrap;overflow:visible;"><span style="position:relative;top:-0.8px;left:0px">4</span></div>
<div style="left:2638px;top:1062.8px;width:146px;height:52.96px;-webkit-text-stroke:0.4px #222;display:flex;justify-content:flex-end;align-items:flex-end;text-align:right;font-size:33.2px;line-height:38.16px;color:#222;padding:0 6.4px 0px 6.4px;box-sizing:border-box;white-space:nowrap;overflow:visible;"><span style="position:relative;top:-0.8px;left:0px">28</span></div>
<div style="left:2929.6px;top:1062.8px;width:146px;height:52.96px;-webkit-text-stroke:0.4px #222;display:flex;justify-content:flex-end;align-items:flex-end;text-align:right;font-size:33.2px;line-height:38.16px;color:#222;padding:0 6.4px 0px 6.4px;box-sizing:border-box;white-space:nowrap;overflow:visible;"><span style="position:relative;top:-0.8px;left:0px">1</span></div>
<div style="left:3075.6px;top:1062.8px;width:145.6px;height:52.96px;-webkit-text-stroke:0.4px #222;display:flex;justify-content:flex-end;align-items:flex-end;text-align:right;font-size:33.2px;line-height:38.16px;color:#222;padding:0 6.4px 0px 6.4px;box-sizing:border-box;white-space:nowrap;overflow:visible;"><span style="position:relative;top:-0.8px;left:0px">27</span></div>
<div style="left:3221.2px;top:1062.8px;width:146px;height:52.96px;-webkit-text-stroke:0.4px #651414;display:flex;justify-content:center;align-items:flex-end;text-align:center;font-size:33.2px;line-height:38.16px;color:#651414;padding:0 10px 0px 10px;box-sizing:border-box;white-space:nowrap;overflow:visible;"><span style="position:relative;top:-0.8px;left:0px">0.97%</span></div>
<div style="left:618.8px;top:1115.76px;width:394.8px;height:52.96px;-webkit-text-stroke:0.4px #222;display:flex;justify-content:flex-start;align-items:flex-end;text-align:left;font-size:33.2px;line-height:38.16px;color:#222;padding:0 12px 0px 12px;box-sizing:border-box;white-space:nowrap;overflow:visible;"><span style="position:relative;top:-0.8px;left:0px">22 . SAMARINDA</span></div>
<div style="left:1013.6px;top:1115.76px;width:165.6px;height:52.96px;-webkit-text-stroke:0.4px #222;display:flex;justify-content:flex-end;align-items:flex-end;text-align:right;font-size:33.2px;line-height:38.16px;color:#222;padding:0 6.4px 0px 6.4px;box-sizing:border-box;white-space:nowrap;overflow:visible;"><span style="position:relative;top:-0.8px;left:0px">50</span></div>
<div style="left:1179.2px;top:1115.76px;width:146px;height:52.96px;-webkit-text-stroke:0.4px #222;display:flex;justify-content:flex-end;align-items:flex-end;text-align:right;font-size:33.2px;line-height:38.16px;color:#222;padding:0 6.4px 0px 6.4px;box-sizing:border-box;white-space:nowrap;overflow:visible;"><span style="position:relative;top:-0.8px;left:0px">18</span></div>
<div style="left:1325.2px;top:1115.76px;width:145.6px;height:52.96px;-webkit-text-stroke:0.4px #222;display:flex;justify-content:flex-end;align-items:flex-end;text-align:right;font-size:33.2px;line-height:38.16px;color:#222;padding:0 6.4px 0px 6.4px;box-sizing:border-box;white-space:nowrap;overflow:visible;"><span style="position:relative;top:-0.8px;left:0px">32</span></div>
<div style="left:1470.8px;top:1115.76px;width:146px;height:52.96px;-webkit-text-stroke:0.4px #651414;display:flex;justify-content:center;align-items:flex-end;text-align:center;font-size:33.2px;line-height:38.16px;color:#651414;padding:0 10px 0px 10px;box-sizing:border-box;white-space:nowrap;overflow:visible;"><span style="position:relative;top:-0.8px;left:0px">36.00%</span></div>
<div style="left:1762.8px;top:1115.76px;width:146px;height:52.96px;-webkit-text-stroke:0.4px #222;display:flex;justify-content:flex-end;align-items:flex-end;text-align:right;font-size:33.2px;line-height:38.16px;color:#222;padding:0 6.4px 0px 6.4px;box-sizing:border-box;white-space:nowrap;overflow:visible;"><span style="position:relative;top:-0.8px;left:0px">18</span></div>
<div style="left:3221.2px;top:1115.76px;width:146px;height:52.96px;-webkit-text-stroke:0.4px #222;display:flex;justify-content:center;align-items:flex-end;text-align:center;font-size:33.2px;line-height:38.16px;color:#222;padding:0 10px 0px 10px;box-sizing:border-box;white-space:nowrap;overflow:visible;"><span style="position:relative;top:-0.8px;left:0px">0.00%</span></div>
<div style="left:618.8px;top:1168.72px;width:394.8px;height:52.96px;-webkit-text-stroke:0.4px #222;display:flex;justify-content:flex-start;align-items:flex-end;text-align:left;font-size:33.2px;line-height:38.16px;color:#222;padding:0 12px 0px 12px;box-sizing:border-box;white-space:nowrap;overflow:visible;"><span style="position:relative;top:-0.8px;left:0px">23 . BANJARMASIN</span></div>
<div style="left:1013.6px;top:1168.72px;width:165.6px;height:52.96px;-webkit-text-stroke:0.4px #222;display:flex;justify-content:flex-end;align-items:flex-end;text-align:right;font-size:33.2px;line-height:38.16px;color:#222;padding:0 6.4px 0px 6.4px;box-sizing:border-box;white-space:nowrap;overflow:visible;"><span style="position:relative;top:-0.8px;left:0px">74</span></div>
<div style="left:1179.2px;top:1168.72px;width:146px;height:52.96px;-webkit-text-stroke:0.4px #222;display:flex;justify-content:flex-end;align-items:flex-end;text-align:right;font-size:33.2px;line-height:38.16px;color:#222;padding:0 6.4px 0px 6.4px;box-sizing:border-box;white-space:nowrap;overflow:visible;"><span style="position:relative;top:-0.8px;left:0px">49</span></div>
<div style="left:1325.2px;top:1168.72px;width:145.6px;height:52.96px;-webkit-text-stroke:0.4px #222;display:flex;justify-content:flex-end;align-items:flex-end;text-align:right;font-size:33.2px;line-height:38.16px;color:#222;padding:0 6.4px 0px 6.4px;box-sizing:border-box;white-space:nowrap;overflow:visible;"><span style="position:relative;top:-0.8px;left:0px">25</span></div>
<div style="left:1470.8px;top:1168.72px;width:146px;height:52.96px;-webkit-text-stroke:0.4px #222;display:flex;justify-content:center;align-items:flex-end;text-align:center;font-size:33.2px;line-height:38.16px;color:#222;padding:0 10px 0px 10px;box-sizing:border-box;white-space:nowrap;overflow:visible;"><span style="position:relative;top:-0.8px;left:0px">66.22%</span></div>
<div style="left:1616.8px;top:1168.72px;width:146px;height:52.96px;-webkit-text-stroke:0.4px #222;display:flex;justify-content:flex-end;align-items:flex-end;text-align:right;font-size:33.2px;line-height:38.16px;color:#222;padding:0 6.4px 0px 6.4px;box-sizing:border-box;white-space:nowrap;overflow:visible;"><span style="position:relative;top:-0.8px;left:0px">41</span></div>
<div style="left:1762.8px;top:1168.72px;width:146px;height:52.96px;-webkit-text-stroke:0.4px #222;display:flex;justify-content:flex-end;align-items:flex-end;text-align:right;font-size:33.2px;line-height:38.16px;color:#222;padding:0 6.4px 0px 6.4px;box-sizing:border-box;white-space:nowrap;overflow:visible;"><span style="position:relative;top:-0.8px;left:0px">8</span></div>
<div style="left:1908.8px;top:1168.72px;width:145.6px;height:52.96px;-webkit-text-stroke:0.4px #222;display:flex;justify-content:flex-end;align-items:flex-end;text-align:right;font-size:33.2px;line-height:38.16px;color:#222;padding:0 6.4px 0px 6.4px;box-sizing:border-box;white-space:nowrap;overflow:visible;"><span style="position:relative;top:-0.8px;left:0px">18</span></div>
<div style="left:2054.4px;top:1168.72px;width:146px;height:52.96px;-webkit-text-stroke:0.4px #222;display:flex;justify-content:flex-end;align-items:flex-end;text-align:right;font-size:33.2px;line-height:38.16px;color:#222;padding:0 6.4px 0px 6.4px;box-sizing:border-box;white-space:nowrap;overflow:visible;"><span style="position:relative;top:-0.8px;left:0px">23</span></div>
<div style="left:2200.4px;top:1168.72px;width:146px;height:52.96px;-webkit-text-stroke:0.4px #222;display:flex;justify-content:flex-end;align-items:flex-end;text-align:right;font-size:33.2px;line-height:38.16px;color:#222;padding:0 6.4px 0px 6.4px;box-sizing:border-box;white-space:nowrap;overflow:visible;"><span style="position:relative;top:-0.8px;left:0px">38</span></div>
<div style="left:2346.4px;top:1168.72px;width:145.6px;height:52.96px;-webkit-text-stroke:0.4px #222;display:flex;justify-content:flex-end;align-items:flex-end;text-align:right;font-size:33.2px;line-height:38.16px;color:#222;padding:0 6.4px 0px 6.4px;box-sizing:border-box;white-space:nowrap;overflow:visible;"><span style="position:relative;top:-0.8px;left:0px">3</span></div>
<div style="left:2638px;top:1168.72px;width:146px;height:52.96px;-webkit-text-stroke:0.4px #222;display:flex;justify-content:flex-end;align-items:flex-end;text-align:right;font-size:33.2px;line-height:38.16px;color:#222;padding:0 6.4px 0px 6.4px;box-sizing:border-box;white-space:nowrap;overflow:visible;"><span style="position:relative;top:-0.8px;left:0px">41</span></div>
<div style="left:2929.6px;top:1168.72px;width:146px;height:52.96px;-webkit-text-stroke:0.4px #222;display:flex;justify-content:flex-end;align-items:flex-end;text-align:right;font-size:33.2px;line-height:38.16px;color:#222;padding:0 6.4px 0px 6.4px;box-sizing:border-box;white-space:nowrap;overflow:visible;"><span style="position:relative;top:-0.8px;left:0px">1</span></div>
<div style="left:3075.6px;top:1168.72px;width:145.6px;height:52.96px;-webkit-text-stroke:0.4px #222;display:flex;justify-content:flex-end;align-items:flex-end;text-align:right;font-size:33.2px;line-height:38.16px;color:#222;padding:0 6.4px 0px 6.4px;box-sizing:border-box;white-space:nowrap;overflow:visible;"><span style="position:relative;top:-0.8px;left:0px">40</span></div>
<div style="left:3221.2px;top:1168.72px;width:146px;height:52.96px;-webkit-text-stroke:0.4px #651414;display:flex;justify-content:center;align-items:flex-end;text-align:center;font-size:33.2px;line-height:38.16px;color:#651414;padding:0 10px 0px 10px;box-sizing:border-box;white-space:nowrap;overflow:visible;"><span style="position:relative;top:-0.8px;left:0px">1.35%</span></div>
<div style="left:618.8px;top:1221.68px;width:394.8px;height:52.96px;-webkit-text-stroke:0.4px #222;display:flex;justify-content:flex-start;align-items:flex-end;text-align:left;font-size:33.2px;line-height:38.16px;color:#222;padding:0 12px 0px 12px;box-sizing:border-box;white-space:nowrap;overflow:visible;"><span style="position:relative;top:-0.8px;left:0px">49 . PALANGKARAYA</span></div>
<div style="left:1013.6px;top:1221.68px;width:165.6px;height:52.96px;-webkit-text-stroke:0.4px #222;display:flex;justify-content:flex-end;align-items:flex-end;text-align:right;font-size:33.2px;line-height:38.16px;color:#222;padding:0 6.4px 0px 6.4px;box-sizing:border-box;white-space:nowrap;overflow:visible;"><span style="position:relative;top:-0.8px;left:0px">22</span></div>
<div style="left:1179.2px;top:1221.68px;width:146px;height:52.96px;-webkit-text-stroke:0.4px #222;display:flex;justify-content:flex-end;align-items:flex-end;text-align:right;font-size:33.2px;line-height:38.16px;color:#222;padding:0 6.4px 0px 6.4px;box-sizing:border-box;white-space:nowrap;overflow:visible;"><span style="position:relative;top:-0.8px;left:0px">1</span></div>
<div style="left:1325.2px;top:1221.68px;width:145.6px;height:52.96px;-webkit-text-stroke:0.4px #222;display:flex;justify-content:flex-end;align-items:flex-end;text-align:right;font-size:33.2px;line-height:38.16px;color:#222;padding:0 6.4px 0px 6.4px;box-sizing:border-box;white-space:nowrap;overflow:visible;"><span style="position:relative;top:-0.8px;left:0px">21</span></div>
<div style="left:1470.8px;top:1221.68px;width:146px;height:52.96px;-webkit-text-stroke:0.4px #651414;display:flex;justify-content:center;align-items:flex-end;text-align:center;font-size:33.2px;line-height:38.16px;color:#651414;padding:0 10px 0px 10px;box-sizing:border-box;white-space:nowrap;overflow:visible;"><span style="position:relative;top:-0.8px;left:0px">4.55%</span></div>
<div style="left:1616.8px;top:1221.68px;width:146px;height:52.96px;-webkit-text-stroke:0.4px #222;display:flex;justify-content:flex-end;align-items:flex-end;text-align:right;font-size:33.2px;line-height:38.16px;color:#222;padding:0 6.4px 0px 6.4px;box-sizing:border-box;white-space:nowrap;overflow:visible;"><span style="position:relative;top:-0.8px;left:0px">1</span></div>
<div style="left:1908.8px;top:1221.68px;width:145.6px;height:52.96px;-webkit-text-stroke:0.4px #222;display:flex;justify-content:flex-end;align-items:flex-end;text-align:right;font-size:33.2px;line-height:38.16px;color:#222;padding:0 6.4px 0px 6.4px;box-sizing:border-box;white-space:nowrap;overflow:visible;"><span style="position:relative;top:-0.8px;left:0px">1</span></div>
<div style="left:2200.4px;top:1221.68px;width:146px;height:52.96px;-webkit-text-stroke:0.4px #222;display:flex;justify-content:flex-end;align-items:flex-end;text-align:right;font-size:33.2px;line-height:38.16px;color:#222;padding:0 6.4px 0px 6.4px;box-sizing:border-box;white-space:nowrap;overflow:visible;"><span style="position:relative;top:-0.8px;left:0px">1</span></div>
<div style="left:2638px;top:1221.68px;width:146px;height:52.96px;-webkit-text-stroke:0.4px #222;display:flex;justify-content:flex-end;align-items:flex-end;text-align:right;font-size:33.2px;line-height:38.16px;color:#222;padding:0 6.4px 0px 6.4px;box-sizing:border-box;white-space:nowrap;overflow:visible;"><span style="position:relative;top:-0.8px;left:0px">1</span></div>
<div style="left:3075.6px;top:1221.68px;width:145.6px;height:52.96px;-webkit-text-stroke:0.4px #222;display:flex;justify-content:flex-end;align-items:flex-end;text-align:right;font-size:33.2px;line-height:38.16px;color:#222;padding:0 6.4px 0px 6.4px;box-sizing:border-box;white-space:nowrap;overflow:visible;"><span style="position:relative;top:-0.8px;left:0px">1</span></div>
<div style="left:3221.2px;top:1221.68px;width:146px;height:52.96px;-webkit-text-stroke:0.4px #222;display:flex;justify-content:center;align-items:flex-end;text-align:center;font-size:33.2px;line-height:38.16px;color:#222;padding:0 10px 0px 10px;box-sizing:border-box;white-space:nowrap;overflow:visible;"><span style="position:relative;top:-0.8px;left:0px">0.00%</span></div>
<div style="left:212.4px;top:1274.64px;width:801.2px;height:52.96px;-webkit-text-stroke:0.4px #222;display:flex;justify-content:flex-start;align-items:flex-end;text-align:left;font-size:33.2px;line-height:38.16px;color:#222;padding:0 10px 0px 10px;box-sizing:border-box;white-space:nowrap;overflow:visible;"><span style="position:relative;top:-0.8px;left:0px">AREA KALIMANTAN Total</span></div>
<div style="left:1013.6px;top:1274.64px;width:165.6px;height:52.96px;-webkit-text-stroke:0.4px #222;display:flex;justify-content:flex-end;align-items:flex-end;text-align:right;font-size:33.2px;line-height:38.16px;color:#222;padding:0 6.4px 0px 6.4px;box-sizing:border-box;white-space:nowrap;overflow:visible;"><span style="position:relative;top:-0.8px;left:0px">249</span></div>
<div style="left:1179.2px;top:1274.64px;width:146px;height:52.96px;-webkit-text-stroke:0.4px #222;display:flex;justify-content:flex-end;align-items:flex-end;text-align:right;font-size:33.2px;line-height:38.16px;color:#222;padding:0 6.4px 0px 6.4px;box-sizing:border-box;white-space:nowrap;overflow:visible;"><span style="position:relative;top:-0.8px;left:0px">117</span></div>
<div style="left:1325.2px;top:1274.64px;width:145.6px;height:52.96px;-webkit-text-stroke:0.4px #222;display:flex;justify-content:flex-end;align-items:flex-end;text-align:right;font-size:33.2px;line-height:38.16px;color:#222;padding:0 6.4px 0px 6.4px;box-sizing:border-box;white-space:nowrap;overflow:visible;"><span style="position:relative;top:-0.8px;left:0px">132</span></div>
<div style="left:1470.8px;top:1274.64px;width:146px;height:52.96px;-webkit-text-stroke:0.4px #222;display:flex;justify-content:center;align-items:flex-end;text-align:center;font-size:33.2px;line-height:38.16px;color:#222;padding:0 10px 0px 10px;box-sizing:border-box;white-space:nowrap;overflow:visible;"><span style="position:relative;top:-0.8px;left:0px">46.99%</span></div>
<div style="left:1616.8px;top:1274.64px;width:146px;height:52.96px;-webkit-text-stroke:0.4px #222;display:flex;justify-content:flex-end;align-items:flex-end;text-align:right;font-size:33.2px;line-height:38.16px;color:#222;padding:0 6.4px 0px 6.4px;box-sizing:border-box;white-space:nowrap;overflow:visible;"><span style="position:relative;top:-0.8px;left:0px">70</span></div>
<div style="left:1762.8px;top:1274.64px;width:146px;height:52.96px;-webkit-text-stroke:0.4px #222;display:flex;justify-content:flex-end;align-items:flex-end;text-align:right;font-size:33.2px;line-height:38.16px;color:#222;padding:0 6.4px 0px 6.4px;box-sizing:border-box;white-space:nowrap;overflow:visible;"><span style="position:relative;top:-0.8px;left:0px">47</span></div>
<div style="left:1908.8px;top:1274.64px;width:145.6px;height:52.96px;-webkit-text-stroke:0.4px #222;display:flex;justify-content:flex-end;align-items:flex-end;text-align:right;font-size:33.2px;line-height:38.16px;color:#222;padding:0 6.4px 0px 6.4px;box-sizing:border-box;white-space:nowrap;overflow:visible;"><span style="position:relative;top:-0.8px;left:0px">42</span></div>
<div style="left:2054.4px;top:1274.64px;width:146px;height:52.96px;-webkit-text-stroke:0.4px #222;display:flex;justify-content:flex-end;align-items:flex-end;text-align:right;font-size:33.2px;line-height:38.16px;color:#222;padding:0 6.4px 0px 6.4px;box-sizing:border-box;white-space:nowrap;overflow:visible;"><span style="position:relative;top:-0.8px;left:0px">28</span></div>
<div style="left:2200.4px;top:1274.64px;width:146px;height:52.96px;-webkit-text-stroke:0.4px #222;display:flex;justify-content:flex-end;align-items:flex-end;text-align:right;font-size:33.2px;line-height:38.16px;color:#222;padding:0 6.4px 0px 6.4px;box-sizing:border-box;white-space:nowrap;overflow:visible;"><span style="position:relative;top:-0.8px;left:0px">63</span></div>
<div style="left:2346.4px;top:1274.64px;width:145.6px;height:52.96px;-webkit-text-stroke:0.4px #222;display:flex;justify-content:flex-end;align-items:flex-end;text-align:right;font-size:33.2px;line-height:38.16px;color:#222;padding:0 6.4px 0px 6.4px;box-sizing:border-box;white-space:nowrap;overflow:visible;"><span style="position:relative;top:-0.8px;left:0px">3</span></div>
<div style="left:2492px;top:1274.64px;width:146px;height:52.96px;-webkit-text-stroke:0.4px #222;display:flex;justify-content:flex-end;align-items:flex-end;text-align:right;font-size:33.2px;line-height:38.16px;color:#222;padding:0 6.4px 0px 6.4px;box-sizing:border-box;white-space:nowrap;overflow:visible;"><span style="position:relative;top:-0.8px;left:0px">4</span></div>
<div style="left:2638px;top:1274.64px;width:146px;height:52.96px;-webkit-text-stroke:0.4px #222;display:flex;justify-content:flex-end;align-items:flex-end;text-align:right;font-size:33.2px;line-height:38.16px;color:#222;padding:0 6.4px 0px 6.4px;box-sizing:border-box;white-space:nowrap;overflow:visible;"><span style="position:relative;top:-0.8px;left:0px">70</span></div>
<div style="left:2929.6px;top:1274.64px;width:146px;height:52.96px;-webkit-text-stroke:0.4px #222;display:flex;justify-content:flex-end;align-items:flex-end;text-align:right;font-size:33.2px;line-height:38.16px;color:#222;padding:0 6.4px 0px 6.4px;box-sizing:border-box;white-space:nowrap;overflow:visible;"><span style="position:relative;top:-0.8px;left:0px">2</span></div>
<div style="left:3075.6px;top:1274.64px;width:145.6px;height:52.96px;-webkit-text-stroke:0.4px #222;display:flex;justify-content:flex-end;align-items:flex-end;text-align:right;font-size:33.2px;line-height:38.16px;color:#222;padding:0 6.4px 0px 6.4px;box-sizing:border-box;white-space:nowrap;overflow:visible;"><span style="position:relative;top:-0.8px;left:0px">68</span></div>
<div style="left:3221.2px;top:1274.64px;width:146px;height:52.96px;-webkit-text-stroke:0.4px #222;display:flex;justify-content:center;align-items:flex-end;text-align:center;font-size:33.2px;line-height:38.16px;color:#222;padding:0 10px 0px 10px;box-sizing:border-box;white-space:nowrap;overflow:visible;"><span style="position:relative;top:-0.8px;left:0px">0.80%</span></div>
<div style="left:220.4px;top:1335.2px;width:36.8px;height:36.8px;background:#8497b8;border-radius:6px;"><div style="left:8px;top:15.6px;width:20.8px;height:5.6px;background:#fff"></div></div>
<div style="left:212.4px;top:1327.6px;width:406.4px;height:52.96px;-webkit-text-stroke:0.4px #222;display:flex;justify-content:flex-start;align-items:flex-end;text-align:left;font-size:33.2px;line-height:38.16px;color:#222;padding:0 60px 0px 60px;box-sizing:border-box;white-space:nowrap;overflow:visible;"><span style="position:relative;top:-0.8px;left:0px">AREA SULAWESI</span></div>
<div style="left:618.8px;top:1327.6px;width:394.8px;height:52.96px;-webkit-text-stroke:0.4px #222;display:flex;justify-content:flex-start;align-items:flex-end;text-align:left;font-size:33.2px;line-height:38.16px;color:#222;padding:0 12px 0px 12px;box-sizing:border-box;white-space:nowrap;overflow:visible;"><span style="position:relative;top:-0.8px;left:0px">24 . MAKASAR</span></div>
<div style="left:1013.6px;top:1327.6px;width:165.6px;height:52.96px;-webkit-text-stroke:0.4px #222;display:flex;justify-content:flex-end;align-items:flex-end;text-align:right;font-size:33.2px;line-height:38.16px;color:#222;padding:0 6.4px 0px 6.4px;box-sizing:border-box;white-space:nowrap;overflow:visible;"><span style="position:relative;top:-0.8px;left:0px">106</span></div>
<div style="left:1179.2px;top:1327.6px;width:146px;height:52.96px;-webkit-text-stroke:0.4px #222;display:flex;justify-content:flex-end;align-items:flex-end;text-align:right;font-size:33.2px;line-height:38.16px;color:#222;padding:0 6.4px 0px 6.4px;box-sizing:border-box;white-space:nowrap;overflow:visible;"><span style="position:relative;top:-0.8px;left:0px">85</span></div>
<div style="left:1325.2px;top:1327.6px;width:145.6px;height:52.96px;-webkit-text-stroke:0.4px #222;display:flex;justify-content:flex-end;align-items:flex-end;text-align:right;font-size:33.2px;line-height:38.16px;color:#222;padding:0 6.4px 0px 6.4px;box-sizing:border-box;white-space:nowrap;overflow:visible;"><span style="position:relative;top:-0.8px;left:0px">21</span></div>
<div style="left:1470.8px;top:1327.6px;width:146px;height:52.96px;-webkit-text-stroke:0.4px #222;display:flex;justify-content:center;align-items:flex-end;text-align:center;font-size:33.2px;line-height:38.16px;color:#222;padding:0 10px 0px 10px;box-sizing:border-box;white-space:nowrap;overflow:visible;"><span style="position:relative;top:-0.8px;left:0px">80.19%</span></div>
<div style="left:1616.8px;top:1327.6px;width:146px;height:52.96px;-webkit-text-stroke:0.4px #222;display:flex;justify-content:flex-end;align-items:flex-end;text-align:right;font-size:33.2px;line-height:38.16px;color:#222;padding:0 6.4px 0px 6.4px;box-sizing:border-box;white-space:nowrap;overflow:visible;"><span style="position:relative;top:-0.8px;left:0px">3</span></div>
<div style="left:1762.8px;top:1327.6px;width:146px;height:52.96px;-webkit-text-stroke:0.4px #222;display:flex;justify-content:flex-end;align-items:flex-end;text-align:right;font-size:33.2px;line-height:38.16px;color:#222;padding:0 6.4px 0px 6.4px;box-sizing:border-box;white-space:nowrap;overflow:visible;"><span style="position:relative;top:-0.8px;left:0px">82</span></div>
<div style="left:1908.8px;top:1327.6px;width:145.6px;height:52.96px;-webkit-text-stroke:0.4px #222;display:flex;justify-content:flex-end;align-items:flex-end;text-align:right;font-size:33.2px;line-height:38.16px;color:#222;padding:0 6.4px 0px 6.4px;box-sizing:border-box;white-space:nowrap;overflow:visible;"><span style="position:relative;top:-0.8px;left:0px">1</span></div>
<div style="left:2054.4px;top:1327.6px;width:146px;height:52.96px;-webkit-text-stroke:0.4px #222;display:flex;justify-content:flex-end;align-items:flex-end;text-align:right;font-size:33.2px;line-height:38.16px;color:#222;padding:0 6.4px 0px 6.4px;box-sizing:border-box;white-space:nowrap;overflow:visible;"><span style="position:relative;top:-0.8px;left:0px">2</span></div>
<div style="left:2200.4px;top:1327.6px;width:146px;height:52.96px;-webkit-text-stroke:0.4px #222;display:flex;justify-content:flex-end;align-items:flex-end;text-align:right;font-size:33.2px;line-height:38.16px;color:#222;padding:0 6.4px 0px 6.4px;box-sizing:border-box;white-space:nowrap;overflow:visible;"><span style="position:relative;top:-0.8px;left:0px">3</span></div>
<div style="left:2638px;top:1327.6px;width:146px;height:52.96px;-webkit-text-stroke:0.4px #222;display:flex;justify-content:flex-end;align-items:flex-end;text-align:right;font-size:33.2px;line-height:38.16px;color:#222;padding:0 6.4px 0px 6.4px;box-sizing:border-box;white-space:nowrap;overflow:visible;"><span style="position:relative;top:-0.8px;left:0px">3</span></div>
<div style="left:3075.6px;top:1327.6px;width:145.6px;height:52.96px;-webkit-text-stroke:0.4px #222;display:flex;justify-content:flex-end;align-items:flex-end;text-align:right;font-size:33.2px;line-height:38.16px;color:#222;padding:0 6.4px 0px 6.4px;box-sizing:border-box;white-space:nowrap;overflow:visible;"><span style="position:relative;top:-0.8px;left:0px">3</span></div>
<div style="left:3221.2px;top:1327.6px;width:146px;height:52.96px;-webkit-text-stroke:0.4px #222;display:flex;justify-content:center;align-items:flex-end;text-align:center;font-size:33.2px;line-height:38.16px;color:#222;padding:0 10px 0px 10px;box-sizing:border-box;white-space:nowrap;overflow:visible;"><span style="position:relative;top:-0.8px;left:0px">0.00%</span></div>
<div style="left:618.8px;top:1380.56px;width:394.8px;height:52.96px;-webkit-text-stroke:0.4px #222;display:flex;justify-content:flex-start;align-items:flex-end;text-align:left;font-size:33.2px;line-height:38.16px;color:#222;padding:0 12px 0px 12px;box-sizing:border-box;white-space:nowrap;overflow:visible;"><span style="position:relative;top:-0.8px;left:0px">25 . MENADO</span></div>
<div style="left:1013.6px;top:1380.56px;width:165.6px;height:52.96px;-webkit-text-stroke:0.4px #222;display:flex;justify-content:flex-end;align-items:flex-end;text-align:right;font-size:33.2px;line-height:38.16px;color:#222;padding:0 6.4px 0px 6.4px;box-sizing:border-box;white-space:nowrap;overflow:visible;"><span style="position:relative;top:-0.8px;left:0px">128</span></div>
<div style="left:1179.2px;top:1380.56px;width:146px;height:52.96px;-webkit-text-stroke:0.4px #222;display:flex;justify-content:flex-end;align-items:flex-end;text-align:right;font-size:33.2px;line-height:38.16px;color:#222;padding:0 6.4px 0px 6.4px;box-sizing:border-box;white-space:nowrap;overflow:visible;"><span style="position:relative;top:-0.8px;left:0px">35</span></div>
<div style="left:1325.2px;top:1380.56px;width:145.6px;height:52.96px;-webkit-text-stroke:0.4px #222;display:flex;justify-content:flex-end;align-items:flex-end;text-align:right;font-size:33.2px;line-height:38.16px;color:#222;padding:0 6.4px 0px 6.4px;box-sizing:border-box;white-space:nowrap;overflow:visible;"><span style="position:relative;top:-0.8px;left:0px">93</span></div>
<div style="left:1470.8px;top:1380.56px;width:146px;height:52.96px;-webkit-text-stroke:0.4px #651414;display:flex;justify-content:center;align-items:flex-end;text-align:center;font-size:33.2px;line-height:38.16px;color:#651414;padding:0 10px 0px 10px;box-sizing:border-box;white-space:nowrap;overflow:visible;"><span style="position:relative;top:-0.8px;left:0px">27.34%</span></div>
<div style="left:1616.8px;top:1380.56px;width:146px;height:52.96px;-webkit-text-stroke:0.4px #222;display:flex;justify-content:flex-end;align-items:flex-end;text-align:right;font-size:33.2px;line-height:38.16px;color:#222;padding:0 6.4px 0px 6.4px;box-sizing:border-box;white-space:nowrap;overflow:visible;"><span style="position:relative;top:-0.8px;left:0px">29</span></div>
<div style="left:1762.8px;top:1380.56px;width:146px;height:52.96px;-webkit-text-stroke:0.4px #222;display:flex;justify-content:flex-end;align-items:flex-end;text-align:right;font-size:33.2px;line-height:38.16px;color:#222;padding:0 6.4px 0px 6.4px;box-sizing:border-box;white-space:nowrap;overflow:visible;"><span style="position:relative;top:-0.8px;left:0px">6</span></div>
<div style="left:1908.8px;top:1380.56px;width:145.6px;height:52.96px;-webkit-text-stroke:0.4px #222;display:flex;justify-content:flex-end;align-items:flex-end;text-align:right;font-size:33.2px;line-height:38.16px;color:#222;padding:0 6.4px 0px 6.4px;box-sizing:border-box;white-space:nowrap;overflow:visible;"><span style="position:relative;top:-0.8px;left:0px">12</span></div>
<div style="left:2054.4px;top:1380.56px;width:146px;height:52.96px;-webkit-text-stroke:0.4px #222;display:flex;justify-content:flex-end;align-items:flex-end;text-align:right;font-size:33.2px;line-height:38.16px;color:#222;padding:0 6.4px 0px 6.4px;box-sizing:border-box;white-space:nowrap;overflow:visible;"><span style="position:relative;top:-0.8px;left:0px">17</span></div>
<div style="left:2200.4px;top:1380.56px;width:146px;height:52.96px;-webkit-text-stroke:0.4px #222;display:flex;justify-content:flex-end;align-items:flex-end;text-align:right;font-size:33.2px;line-height:38.16px;color:#222;padding:0 6.4px 0px 6.4px;box-sizing:border-box;white-space:nowrap;overflow:visible;"><span style="position:relative;top:-0.8px;left:0px">23</span></div>
<div style="left:2346.4px;top:1380.56px;width:145.6px;height:52.96px;-webkit-text-stroke:0.4px #222;display:flex;justify-content:flex-end;align-items:flex-end;text-align:right;font-size:33.2px;line-height:38.16px;color:#222;padding:0 6.4px 0px 6.4px;box-sizing:border-box;white-space:nowrap;overflow:visible;"><span style="position:relative;top:-0.8px;left:0px">5</span></div>
<div style="left:2492px;top:1380.56px;width:146px;height:52.96px;-webkit-text-stroke:0.4px #222;display:flex;justify-content:flex-end;align-items:flex-end;text-align:right;font-size:33.2px;line-height:38.16px;color:#222;padding:0 6.4px 0px 6.4px;box-sizing:border-box;white-space:nowrap;overflow:visible;"><span style="position:relative;top:-0.8px;left:0px">1</span></div>
<div style="left:2638px;top:1380.56px;width:146px;height:52.96px;-webkit-text-stroke:0.4px #222;display:flex;justify-content:flex-end;align-items:flex-end;text-align:right;font-size:33.2px;line-height:38.16px;color:#222;padding:0 6.4px 0px 6.4px;box-sizing:border-box;white-space:nowrap;overflow:visible;"><span style="position:relative;top:-0.8px;left:0px">28</span></div>
<div style="left:2784px;top:1380.56px;width:145.6px;height:52.96px;-webkit-text-stroke:0.4px #222;display:flex;justify-content:flex-end;align-items:flex-end;text-align:right;font-size:33.2px;line-height:38.16px;color:#222;padding:0 6.4px 0px 6.4px;box-sizing:border-box;white-space:nowrap;overflow:visible;"><span style="position:relative;top:-0.8px;left:0px">1</span></div>
<div style="left:2929.6px;top:1380.56px;width:146px;height:52.96px;-webkit-text-stroke:0.4px #222;display:flex;justify-content:flex-end;align-items:flex-end;text-align:right;font-size:33.2px;line-height:38.16px;color:#222;padding:0 6.4px 0px 6.4px;box-sizing:border-box;white-space:nowrap;overflow:visible;"><span style="position:relative;top:-0.8px;left:0px">1</span></div>
<div style="left:3075.6px;top:1380.56px;width:145.6px;height:52.96px;-webkit-text-stroke:0.4px #222;display:flex;justify-content:flex-end;align-items:flex-end;text-align:right;font-size:33.2px;line-height:38.16px;color:#222;padding:0 6.4px 0px 6.4px;box-sizing:border-box;white-space:nowrap;overflow:visible;"><span style="position:relative;top:-0.8px;left:0px">28</span></div>
<div style="left:3221.2px;top:1380.56px;width:146px;height:52.96px;-webkit-text-stroke:0.4px #651414;display:flex;justify-content:center;align-items:flex-end;text-align:center;font-size:33.2px;line-height:38.16px;color:#651414;padding:0 10px 0px 10px;box-sizing:border-box;white-space:nowrap;overflow:visible;"><span style="position:relative;top:-0.8px;left:0px">0.78%</span></div>
<div style="left:618.8px;top:1433.52px;width:394.8px;height:52.96px;-webkit-text-stroke:0.4px #222;display:flex;justify-content:flex-start;align-items:flex-end;text-align:left;font-size:33.2px;line-height:38.16px;color:#222;padding:0 12px 0px 12px;box-sizing:border-box;white-space:nowrap;overflow:visible;"><span style="position:relative;top:-0.8px;left:0px">50 . PALU</span></div>
<div style="left:1013.6px;top:1433.52px;width:165.6px;height:52.96px;-webkit-text-stroke:0.4px #222;display:flex;justify-content:flex-end;align-items:flex-end;text-align:right;font-size:33.2px;line-height:38.16px;color:#222;padding:0 6.4px 0px 6.4px;box-sizing:border-box;white-space:nowrap;overflow:visible;"><span style="position:relative;top:-0.8px;left:0px">79</span></div>
<div style="left:1179.2px;top:1433.52px;width:146px;height:52.96px;-webkit-text-stroke:0.4px #222;display:flex;justify-content:flex-end;align-items:flex-end;text-align:right;font-size:33.2px;line-height:38.16px;color:#222;padding:0 6.4px 0px 6.4px;box-sizing:border-box;white-space:nowrap;overflow:visible;"><span style="position:relative;top:-0.8px;left:0px">25</span></div>
<div style="left:1325.2px;top:1433.52px;width:145.6px;height:52.96px;-webkit-text-stroke:0.4px #222;display:flex;justify-content:flex-end;align-items:flex-end;text-align:right;font-size:33.2px;line-height:38.16px;color:#222;padding:0 6.4px 0px 6.4px;box-sizing:border-box;white-space:nowrap;overflow:visible;"><span style="position:relative;top:-0.8px;left:0px">54</span></div>
<div style="left:1470.8px;top:1433.52px;width:146px;height:52.96px;-webkit-text-stroke:0.4px #651414;display:flex;justify-content:center;align-items:flex-end;text-align:center;font-size:33.2px;line-height:38.16px;color:#651414;padding:0 10px 0px 10px;box-sizing:border-box;white-space:nowrap;overflow:visible;"><span style="position:relative;top:-0.8px;left:0px">31.65%</span></div>
<div style="left:1616.8px;top:1433.52px;width:146px;height:52.96px;-webkit-text-stroke:0.4px #222;display:flex;justify-content:flex-end;align-items:flex-end;text-align:right;font-size:33.2px;line-height:38.16px;color:#222;padding:0 6.4px 0px 6.4px;box-sizing:border-box;white-space:nowrap;overflow:visible;"><span style="position:relative;top:-0.8px;left:0px">6</span></div>
<div style="left:1762.8px;top:1433.52px;width:146px;height:52.96px;-webkit-text-stroke:0.4px #222;display:flex;justify-content:flex-end;align-items:flex-end;text-align:right;font-size:33.2px;line-height:38.16px;color:#222;padding:0 6.4px 0px 6.4px;box-sizing:border-box;white-space:nowrap;overflow:visible;"><span style="position:relative;top:-0.8px;left:0px">19</span></div>
<div style="left:1908.8px;top:1433.52px;width:145.6px;height:52.96px;-webkit-text-stroke:0.4px #222;display:flex;justify-content:flex-end;align-items:flex-end;text-align:right;font-size:33.2px;line-height:38.16px;color:#222;padding:0 6.4px 0px 6.4px;box-sizing:border-box;white-space:nowrap;overflow:visible;"><span style="position:relative;top:-0.8px;left:0px">1</span></div>
<div style="left:2054.4px;top:1433.52px;width:146px;height:52.96px;-webkit-text-stroke:0.4px #222;display:flex;justify-content:flex-end;align-items:flex-end;text-align:right;font-size:33.2px;line-height:38.16px;color:#222;padding:0 6.4px 0px 6.4px;box-sizing:border-box;white-space:nowrap;overflow:visible;"><span style="position:relative;top:-0.8px;left:0px">5</span></div>
<div style="left:2200.4px;top:1433.52px;width:146px;height:52.96px;-webkit-text-stroke:0.4px #222;display:flex;justify-content:flex-end;align-items:flex-end;text-align:right;font-size:33.2px;line-height:38.16px;color:#222;padding:0 6.4px 0px 6.4px;box-sizing:border-box;white-space:nowrap;overflow:visible;"><span style="position:relative;top:-0.8px;left:0px">6</span></div>
<div style="left:2638px;top:1433.52px;width:146px;height:52.96px;-webkit-text-stroke:0.4px #222;display:flex;justify-content:flex-end;align-items:flex-end;text-align:right;font-size:33.2px;line-height:38.16px;color:#222;padding:0 6.4px 0px 6.4px;box-sizing:border-box;white-space:nowrap;overflow:visible;"><span style="position:relative;top:-0.8px;left:0px">6</span></div>
<div style="left:3075.6px;top:1433.52px;width:145.6px;height:52.96px;-webkit-text-stroke:0.4px #222;display:flex;justify-content:flex-end;align-items:flex-end;text-align:right;font-size:33.2px;line-height:38.16px;color:#222;padding:0 6.4px 0px 6.4px;box-sizing:border-box;white-space:nowrap;overflow:visible;"><span style="position:relative;top:-0.8px;left:0px">6</span></div>
<div style="left:3221.2px;top:1433.52px;width:146px;height:52.96px;-webkit-text-stroke:0.4px #222;display:flex;justify-content:center;align-items:flex-end;text-align:center;font-size:33.2px;line-height:38.16px;color:#222;padding:0 10px 0px 10px;box-sizing:border-box;white-space:nowrap;overflow:visible;"><span style="position:relative;top:-0.8px;left:0px">0.00%</span></div>
<div style="left:618.8px;top:1486.48px;width:394.8px;height:52.96px;-webkit-text-stroke:0.4px #222;display:flex;justify-content:flex-start;align-items:flex-end;text-align:left;font-size:33.2px;line-height:38.16px;color:#222;padding:0 12px 0px 12px;box-sizing:border-box;white-space:nowrap;overflow:visible;"><span style="position:relative;top:-0.8px;left:0px">63 . GORONTALO</span></div>
<div style="left:1013.6px;top:1486.48px;width:165.6px;height:52.96px;-webkit-text-stroke:0.4px #222;display:flex;justify-content:flex-end;align-items:flex-end;text-align:right;font-size:33.2px;line-height:38.16px;color:#222;padding:0 6.4px 0px 6.4px;box-sizing:border-box;white-space:nowrap;overflow:visible;"><span style="position:relative;top:-0.8px;left:0px">49</span></div>
<div style="left:1179.2px;top:1486.48px;width:146px;height:52.96px;-webkit-text-stroke:0.4px #222;display:flex;justify-content:flex-end;align-items:flex-end;text-align:right;font-size:33.2px;line-height:38.16px;color:#222;padding:0 6.4px 0px 6.4px;box-sizing:border-box;white-space:nowrap;overflow:visible;"><span style="position:relative;top:-0.8px;left:0px">2</span></div>
<div style="left:1325.2px;top:1486.48px;width:145.6px;height:52.96px;-webkit-text-stroke:0.4px #222;display:flex;justify-content:flex-end;align-items:flex-end;text-align:right;font-size:33.2px;line-height:38.16px;color:#222;padding:0 6.4px 0px 6.4px;box-sizing:border-box;white-space:nowrap;overflow:visible;"><span style="position:relative;top:-0.8px;left:0px">47</span></div>
<div style="left:1470.8px;top:1486.48px;width:146px;height:52.96px;-webkit-text-stroke:0.4px #651414;display:flex;justify-content:center;align-items:flex-end;text-align:center;font-size:33.2px;line-height:38.16px;color:#651414;padding:0 10px 0px 10px;box-sizing:border-box;white-space:nowrap;overflow:visible;"><span style="position:relative;top:-0.8px;left:0px">4.08%</span></div>
<div style="left:1762.8px;top:1486.48px;width:146px;height:52.96px;-webkit-text-stroke:0.4px #222;display:flex;justify-content:flex-end;align-items:flex-end;text-align:right;font-size:33.2px;line-height:38.16px;color:#222;padding:0 6.4px 0px 6.4px;box-sizing:border-box;white-space:nowrap;overflow:visible;"><span style="position:relative;top:-0.8px;left:0px">2</span></div>
<div style="left:3221.2px;top:1486.48px;width:146px;height:52.96px;-webkit-text-stroke:0.4px #222;display:flex;justify-content:center;align-items:flex-end;text-align:center;font-size:33.2px;line-height:38.16px;color:#222;padding:0 10px 0px 10px;box-sizing:border-box;white-space:nowrap;overflow:visible;"><span style="position:relative;top:-0.8px;left:0px">0.00%</span></div>
<div style="left:618.8px;top:1539.44px;width:394.8px;height:52.96px;-webkit-text-stroke:0.4px #222;display:flex;justify-content:flex-start;align-items:flex-end;text-align:left;font-size:33.2px;line-height:38.16px;color:#222;padding:0 12px 0px 12px;box-sizing:border-box;white-space:nowrap;overflow:visible;"><span style="position:relative;top:-0.8px;left:0px">66 . KENDARI</span></div>
<div style="left:1013.6px;top:1539.44px;width:165.6px;height:52.96px;-webkit-text-stroke:0.4px #222;display:flex;justify-content:flex-end;align-items:flex-end;text-align:right;font-size:33.2px;line-height:38.16px;color:#222;padding:0 6.4px 0px 6.4px;box-sizing:border-box;white-space:nowrap;overflow:visible;"><span style="position:relative;top:-0.8px;left:0px">49</span></div>
<div style="left:1179.2px;top:1539.44px;width:146px;height:52.96px;-webkit-text-stroke:0.4px #222;display:flex;justify-content:flex-end;align-items:flex-end;text-align:right;font-size:33.2px;line-height:38.16px;color:#222;padding:0 6.4px 0px 6.4px;box-sizing:border-box;white-space:nowrap;overflow:visible;"><span style="position:relative;top:-0.8px;left:0px">20</span></div>
<div style="left:1325.2px;top:1539.44px;width:145.6px;height:52.96px;-webkit-text-stroke:0.4px #222;display:flex;justify-content:flex-end;align-items:flex-end;text-align:right;font-size:33.2px;line-height:38.16px;color:#222;padding:0 6.4px 0px 6.4px;box-sizing:border-box;white-space:nowrap;overflow:visible;"><span style="position:relative;top:-0.8px;left:0px">29</span></div>
<div style="left:1470.8px;top:1539.44px;width:146px;height:52.96px;-webkit-text-stroke:0.4px #222;display:flex;justify-content:center;align-items:flex-end;text-align:center;font-size:33.2px;line-height:38.16px;color:#222;padding:0 10px 0px 10px;box-sizing:border-box;white-space:nowrap;overflow:visible;"><span style="position:relative;top:-0.8px;left:0px">40.82%</span></div>
<div style="left:1616.8px;top:1539.44px;width:146px;height:52.96px;-webkit-text-stroke:0.4px #222;display:flex;justify-content:flex-end;align-items:flex-end;text-align:right;font-size:33.2px;line-height:38.16px;color:#222;padding:0 6.4px 0px 6.4px;box-sizing:border-box;white-space:nowrap;overflow:visible;"><span style="position:relative;top:-0.8px;left:0px">5</span></div>
<div style="left:1762.8px;top:1539.44px;width:146px;height:52.96px;-webkit-text-stroke:0.4px #222;display:flex;justify-content:flex-end;align-items:flex-end;text-align:right;font-size:33.2px;line-height:38.16px;color:#222;padding:0 6.4px 0px 6.4px;box-sizing:border-box;white-space:nowrap;overflow:visible;"><span style="position:relative;top:-0.8px;left:0px">15</span></div>
<div style="left:1908.8px;top:1539.44px;width:145.6px;height:52.96px;-webkit-text-stroke:0.4px #222;display:flex;justify-content:flex-end;align-items:flex-end;text-align:right;font-size:33.2px;line-height:38.16px;color:#222;padding:0 6.4px 0px 6.4px;box-sizing:border-box;white-space:nowrap;overflow:visible;"><span style="position:relative;top:-0.8px;left:0px">2</span></div>
<div style="left:2054.4px;top:1539.44px;width:146px;height:52.96px;-webkit-text-stroke:0.4px #222;display:flex;justify-content:flex-end;align-items:flex-end;text-align:right;font-size:33.2px;line-height:38.16px;color:#222;padding:0 6.4px 0px 6.4px;box-sizing:border-box;white-space:nowrap;overflow:visible;"><span style="position:relative;top:-0.8px;left:0px">3</span></div>
<div style="left:2200.4px;top:1539.44px;width:146px;height:52.96px;-webkit-text-stroke:0.4px #222;display:flex;justify-content:flex-end;align-items:flex-end;text-align:right;font-size:33.2px;line-height:38.16px;color:#222;padding:0 6.4px 0px 6.4px;box-sizing:border-box;white-space:nowrap;overflow:visible;"><span style="position:relative;top:-0.8px;left:0px">5</span></div>
<div style="left:2638px;top:1539.44px;width:146px;height:52.96px;-webkit-text-stroke:0.4px #222;display:flex;justify-content:flex-end;align-items:flex-end;text-align:right;font-size:33.2px;line-height:38.16px;color:#222;padding:0 6.4px 0px 6.4px;box-sizing:border-box;white-space:nowrap;overflow:visible;"><span style="position:relative;top:-0.8px;left:0px">5</span></div>
<div style="left:3075.6px;top:1539.44px;width:145.6px;height:52.96px;-webkit-text-stroke:0.4px #222;display:flex;justify-content:flex-end;align-items:flex-end;text-align:right;font-size:33.2px;line-height:38.16px;color:#222;padding:0 6.4px 0px 6.4px;box-sizing:border-box;white-space:nowrap;overflow:visible;"><span style="position:relative;top:-0.8px;left:0px">5</span></div>
<div style="left:3221.2px;top:1539.44px;width:146px;height:52.96px;-webkit-text-stroke:0.4px #222;display:flex;justify-content:center;align-items:flex-end;text-align:center;font-size:33.2px;line-height:38.16px;color:#222;padding:0 10px 0px 10px;box-sizing:border-box;white-space:nowrap;overflow:visible;"><span style="position:relative;top:-0.8px;left:0px">0.00%</span></div>
<div style="left:618.8px;top:1592.4px;width:394.8px;height:52.96px;-webkit-text-stroke:0.4px #222;display:flex;justify-content:flex-start;align-items:flex-end;text-align:left;font-size:33.2px;line-height:38.16px;color:#222;padding:0 12px 0px 12px;box-sizing:border-box;white-space:nowrap;overflow:visible;"><span style="position:relative;top:-0.8px;left:0px">74 . PAREPARE</span></div>
<div style="left:1013.6px;top:1592.4px;width:165.6px;height:52.96px;-webkit-text-stroke:0.4px #222;display:flex;justify-content:flex-end;align-items:flex-end;text-align:right;font-size:33.2px;line-height:38.16px;color:#222;padding:0 6.4px 0px 6.4px;box-sizing:border-box;white-space:nowrap;overflow:visible;"><span style="position:relative;top:-0.8px;left:0px">97</span></div>
<div style="left:1179.2px;top:1592.4px;width:146px;height:52.96px;-webkit-text-stroke:0.4px #222;display:flex;justify-content:flex-end;align-items:flex-end;text-align:right;font-size:33.2px;line-height:38.16px;color:#222;padding:0 6.4px 0px 6.4px;box-sizing:border-box;white-space:nowrap;overflow:visible;"><span style="position:relative;top:-0.8px;left:0px">1</span></div>
<div style="left:1325.2px;top:1592.4px;width:145.6px;height:52.96px;-webkit-text-stroke:0.4px #222;display:flex;justify-content:flex-end;align-items:flex-end;text-align:right;font-size:33.2px;line-height:38.16px;color:#222;padding:0 6.4px 0px 6.4px;box-sizing:border-box;white-space:nowrap;overflow:visible;"><span style="position:relative;top:-0.8px;left:0px">96</span></div>
<div style="left:1470.8px;top:1592.4px;width:146px;height:52.96px;-webkit-text-stroke:0.4px #651414;display:flex;justify-content:center;align-items:flex-end;text-align:center;font-size:33.2px;line-height:38.16px;color:#651414;padding:0 10px 0px 10px;box-sizing:border-box;white-space:nowrap;overflow:visible;"><span style="position:relative;top:-0.8px;left:0px">1.03%</span></div>
<div style="left:1616.8px;top:1592.4px;width:146px;height:52.96px;-webkit-text-stroke:0.4px #222;display:flex;justify-content:flex-end;align-items:flex-end;text-align:right;font-size:33.2px;line-height:38.16px;color:#222;padding:0 6.4px 0px 6.4px;box-sizing:border-box;white-space:nowrap;overflow:visible;"><span style="position:relative;top:-0.8px;left:0px">1</span></div>
<div style="left:2054.4px;top:1592.4px;width:146px;height:52.96px;-webkit-text-stroke:0.4px #222;display:flex;justify-content:flex-end;align-items:flex-end;text-align:right;font-size:33.2px;line-height:38.16px;color:#222;padding:0 6.4px 0px 6.4px;box-sizing:border-box;white-space:nowrap;overflow:visible;"><span style="position:relative;top:-0.8px;left:0px">1</span></div>
<div style="left:2200.4px;top:1592.4px;width:146px;height:52.96px;-webkit-text-stroke:0.4px #222;display:flex;justify-content:flex-end;align-items:flex-end;text-align:right;font-size:33.2px;line-height:38.16px;color:#222;padding:0 6.4px 0px 6.4px;box-sizing:border-box;white-space:nowrap;overflow:visible;"><span style="position:relative;top:-0.8px;left:0px">1</span></div>
<div style="left:2784px;top:1592.4px;width:145.6px;height:52.96px;-webkit-text-stroke:0.4px #222;display:flex;justify-content:flex-end;align-items:flex-end;text-align:right;font-size:33.2px;line-height:38.16px;color:#222;padding:0 6.4px 0px 6.4px;box-sizing:border-box;white-space:nowrap;overflow:visible;"><span style="position:relative;top:-0.8px;left:0px">1</span></div>
<div style="left:3075.6px;top:1592.4px;width:145.6px;height:52.96px;-webkit-text-stroke:0.4px #222;display:flex;justify-content:flex-end;align-items:flex-end;text-align:right;font-size:33.2px;line-height:38.16px;color:#222;padding:0 6.4px 0px 6.4px;box-sizing:border-box;white-space:nowrap;overflow:visible;"><span style="position:relative;top:-0.8px;left:0px">1</span></div>
<div style="left:3221.2px;top:1592.4px;width:146px;height:52.96px;-webkit-text-stroke:0.4px #222;display:flex;justify-content:center;align-items:flex-end;text-align:center;font-size:33.2px;line-height:38.16px;color:#222;padding:0 10px 0px 10px;box-sizing:border-box;white-space:nowrap;overflow:visible;"><span style="position:relative;top:-0.8px;left:0px">0.00%</span></div>
<div style="left:618.8px;top:1645.36px;width:394.8px;height:52.96px;-webkit-text-stroke:0.4px #222;display:flex;justify-content:flex-start;align-items:flex-end;text-align:left;font-size:33.2px;line-height:38.16px;color:#222;padding:0 12px 0px 12px;box-sizing:border-box;white-space:nowrap;overflow:visible;"><span style="position:relative;top:-0.8px;left:0px">79 . JAYAPURA</span></div>
<div style="left:1013.6px;top:1645.36px;width:165.6px;height:52.96px;-webkit-text-stroke:0.4px #222;display:flex;justify-content:flex-end;align-items:flex-end;text-align:right;font-size:33.2px;line-height:38.16px;color:#222;padding:0 6.4px 0px 6.4px;box-sizing:border-box;white-space:nowrap;overflow:visible;"><span style="position:relative;top:-0.8px;left:0px">27</span></div>
<div style="left:1179.2px;top:1645.36px;width:146px;height:52.96px;-webkit-text-stroke:0.4px #222;display:flex;justify-content:flex-end;align-items:flex-end;text-align:right;font-size:33.2px;line-height:38.16px;color:#222;padding:0 6.4px 0px 6.4px;box-sizing:border-box;white-space:nowrap;overflow:visible;"><span style="position:relative;top:-0.8px;left:0px">14</span></div>
<div style="left:1325.2px;top:1645.36px;width:145.6px;height:52.96px;-webkit-text-stroke:0.4px #222;display:flex;justify-content:flex-end;align-items:flex-end;text-align:right;font-size:33.2px;line-height:38.16px;color:#222;padding:0 6.4px 0px 6.4px;box-sizing:border-box;white-space:nowrap;overflow:visible;"><span style="position:relative;top:-0.8px;left:0px">13</span></div>
<div style="left:1470.8px;top:1645.36px;width:146px;height:52.96px;-webkit-text-stroke:0.4px #222;display:flex;justify-content:center;align-items:flex-end;text-align:center;font-size:33.2px;line-height:38.16px;color:#222;padding:0 10px 0px 10px;box-sizing:border-box;white-space:nowrap;overflow:visible;"><span style="position:relative;top:-0.8px;left:0px">51.85%</span></div>
<div style="left:1762.8px;top:1645.36px;width:146px;height:52.96px;-webkit-text-stroke:0.4px #222;display:flex;justify-content:flex-end;align-items:flex-end;text-align:right;font-size:33.2px;line-height:38.16px;color:#222;padding:0 6.4px 0px 6.4px;box-sizing:border-box;white-space:nowrap;overflow:visible;"><span style="position:relative;top:-0.8px;left:0px">14</span></div>
<div style="left:3221.2px;top:1645.36px;width:146px;height:52.96px;-webkit-text-stroke:0.4px #222;display:flex;justify-content:center;align-items:flex-end;text-align:center;font-size:33.2px;line-height:38.16px;color:#222;padding:0 10px 0px 10px;box-sizing:border-box;white-space:nowrap;overflow:visible;"><span style="position:relative;top:-0.8px;left:0px">0.00%</span></div>
<div style="left:212.4px;top:1698.32px;width:801.2px;height:52.96px;-webkit-text-stroke:0.4px #222;display:flex;justify-content:flex-start;align-items:flex-end;text-align:left;font-size:33.2px;line-height:38.16px;color:#222;padding:0 10px 0px 10px;box-sizing:border-box;white-space:nowrap;overflow:visible;"><span style="position:relative;top:-0.8px;left:0px">AREA SULAWESI Total</span></div>
<div style="left:1013.6px;top:1698.32px;width:165.6px;height:52.96px;-webkit-text-stroke:0.4px #222;display:flex;justify-content:flex-end;align-items:flex-end;text-align:right;font-size:33.2px;line-height:38.16px;color:#222;padding:0 6.4px 0px 6.4px;box-sizing:border-box;white-space:nowrap;overflow:visible;"><span style="position:relative;top:-0.8px;left:0px">535</span></div>
<div style="left:1179.2px;top:1698.32px;width:146px;height:52.96px;-webkit-text-stroke:0.4px #222;display:flex;justify-content:flex-end;align-items:flex-end;text-align:right;font-size:33.2px;line-height:38.16px;color:#222;padding:0 6.4px 0px 6.4px;box-sizing:border-box;white-space:nowrap;overflow:visible;"><span style="position:relative;top:-0.8px;left:0px">182</span></div>
<div style="left:1325.2px;top:1698.32px;width:145.6px;height:52.96px;-webkit-text-stroke:0.4px #222;display:flex;justify-content:flex-end;align-items:flex-end;text-align:right;font-size:33.2px;line-height:38.16px;color:#222;padding:0 6.4px 0px 6.4px;box-sizing:border-box;white-space:nowrap;overflow:visible;"><span style="position:relative;top:-0.8px;left:0px">353</span></div>
<div style="left:1470.8px;top:1698.32px;width:146px;height:52.96px;-webkit-text-stroke:0.4px #651414;display:flex;justify-content:center;align-items:flex-end;text-align:center;font-size:33.2px;line-height:38.16px;color:#651414;padding:0 10px 0px 10px;box-sizing:border-box;white-space:nowrap;overflow:visible;"><span style="position:relative;top:-0.8px;left:0px">34.02%</span></div>
<div style="left:1616.8px;top:1698.32px;width:146px;height:52.96px;-webkit-text-stroke:0.4px #222;display:flex;justify-content:flex-end;align-items:flex-end;text-align:right;font-size:33.2px;line-height:38.16px;color:#222;padding:0 6.4px 0px 6.4px;box-sizing:border-box;white-space:nowrap;overflow:visible;"><span style="position:relative;top:-0.8px;left:0px">44</span></div>
<div style="left:1762.8px;top:1698.32px;width:146px;height:52.96px;-webkit-text-stroke:0.4px #222;display:flex;justify-content:flex-end;align-items:flex-end;text-align:right;font-size:33.2px;line-height:38.16px;color:#222;padding:0 6.4px 0px 6.4px;box-sizing:border-box;white-space:nowrap;overflow:visible;"><span style="position:relative;top:-0.8px;left:0px">138</span></div>
<div style="left:1908.8px;top:1698.32px;width:145.6px;height:52.96px;-webkit-text-stroke:0.4px #222;display:flex;justify-content:flex-end;align-items:flex-end;text-align:right;font-size:33.2px;line-height:38.16px;color:#222;padding:0 6.4px 0px 6.4px;box-sizing:border-box;white-space:nowrap;overflow:visible;"><span style="position:relative;top:-0.8px;left:0px">16</span></div>
<div style="left:2054.4px;top:1698.32px;width:146px;height:52.96px;-webkit-text-stroke:0.4px #222;display:flex;justify-content:flex-end;align-items:flex-end;text-align:right;font-size:33.2px;line-height:38.16px;color:#222;padding:0 6.4px 0px 6.4px;box-sizing:border-box;white-space:nowrap;overflow:visible;"><span style="position:relative;top:-0.8px;left:0px">28</span></div>
<div style="left:2200.4px;top:1698.32px;width:146px;height:52.96px;-webkit-text-stroke:0.4px #222;display:flex;justify-content:flex-end;align-items:flex-end;text-align:right;font-size:33.2px;line-height:38.16px;color:#222;padding:0 6.4px 0px 6.4px;box-sizing:border-box;white-space:nowrap;overflow:visible;"><span style="position:relative;top:-0.8px;left:0px">38</span></div>
<div style="left:2346.4px;top:1698.32px;width:145.6px;height:52.96px;-webkit-text-stroke:0.4px #222;display:flex;justify-content:flex-end;align-items:flex-end;text-align:right;font-size:33.2px;line-height:38.16px;color:#222;padding:0 6.4px 0px 6.4px;box-sizing:border-box;white-space:nowrap;overflow:visible;"><span style="position:relative;top:-0.8px;left:0px">5</span></div>
<div style="left:2492px;top:1698.32px;width:146px;height:52.96px;-webkit-text-stroke:0.4px #222;display:flex;justify-content:flex-end;align-items:flex-end;text-align:right;font-size:33.2px;line-height:38.16px;color:#222;padding:0 6.4px 0px 6.4px;box-sizing:border-box;white-space:nowrap;overflow:visible;"><span style="position:relative;top:-0.8px;left:0px">1</span></div>
<div style="left:2638px;top:1698.32px;width:146px;height:52.96px;-webkit-text-stroke:0.4px #222;display:flex;justify-content:flex-end;align-items:flex-end;text-align:right;font-size:33.2px;line-height:38.16px;color:#222;padding:0 6.4px 0px 6.4px;box-sizing:border-box;white-space:nowrap;overflow:visible;"><span style="position:relative;top:-0.8px;left:0px">42</span></div>
<div style="left:2784px;top:1698.32px;width:145.6px;height:52.96px;-webkit-text-stroke:0.4px #222;display:flex;justify-content:flex-end;align-items:flex-end;text-align:right;font-size:33.2px;line-height:38.16px;color:#222;padding:0 6.4px 0px 6.4px;box-sizing:border-box;white-space:nowrap;overflow:visible;"><span style="position:relative;top:-0.8px;left:0px">2</span></div>
<div style="left:2929.6px;top:1698.32px;width:146px;height:52.96px;-webkit-text-stroke:0.4px #222;display:flex;justify-content:flex-end;align-items:flex-end;text-align:right;font-size:33.2px;line-height:38.16px;color:#222;padding:0 6.4px 0px 6.4px;box-sizing:border-box;white-space:nowrap;overflow:visible;"><span style="position:relative;top:-0.8px;left:0px">1</span></div>
<div style="left:3075.6px;top:1698.32px;width:145.6px;height:52.96px;-webkit-text-stroke:0.4px #222;display:flex;justify-content:flex-end;align-items:flex-end;text-align:right;font-size:33.2px;line-height:38.16px;color:#222;padding:0 6.4px 0px 6.4px;box-sizing:border-box;white-space:nowrap;overflow:visible;"><span style="position:relative;top:-0.8px;left:0px">43</span></div>
<div style="left:3221.2px;top:1698.32px;width:146px;height:52.96px;-webkit-text-stroke:0.4px #222;display:flex;justify-content:center;align-items:flex-end;text-align:center;font-size:33.2px;line-height:38.16px;color:#222;padding:0 10px 0px 10px;box-sizing:border-box;white-space:nowrap;overflow:visible;"><span style="position:relative;top:-0.8px;left:0px">0.19%</span></div>
<div style="left:212.4px;top:1751.28px;width:406.4px;height:52.96px;-webkit-text-stroke:0.4px #222;display:flex;justify-content:flex-start;align-items:flex-end;text-align:left;font-size:33.2px;line-height:38.16px;color:#222;padding:0 10px 0px 10px;box-sizing:border-box;white-space:nowrap;overflow:visible;font-weight:bold;"><span style="position:relative;top:-0.8px;left:0px">Grand Total</span></div>
<div style="left:1013.6px;top:1751.28px;width:165.6px;height:52.96px;-webkit-text-stroke:0.4px #222;display:flex;justify-content:flex-end;align-items:flex-end;text-align:right;font-size:33.2px;line-height:38.16px;color:#222;padding:0 6.4px 0px 6.4px;box-sizing:border-box;white-space:nowrap;overflow:visible;font-weight:bold;"><span style="position:relative;top:-0.8px;left:0px">784</span></div>
<div style="left:1179.2px;top:1751.28px;width:146px;height:52.96px;-webkit-text-stroke:0.4px #222;display:flex;justify-content:flex-end;align-items:flex-end;text-align:right;font-size:33.2px;line-height:38.16px;color:#222;padding:0 6.4px 0px 6.4px;box-sizing:border-box;white-space:nowrap;overflow:visible;font-weight:bold;"><span style="position:relative;top:-0.8px;left:0px">299</span></div>
<div style="left:1325.2px;top:1751.28px;width:145.6px;height:52.96px;-webkit-text-stroke:0.4px #222;display:flex;justify-content:flex-end;align-items:flex-end;text-align:right;font-size:33.2px;line-height:38.16px;color:#222;padding:0 6.4px 0px 6.4px;box-sizing:border-box;white-space:nowrap;overflow:visible;font-weight:bold;"><span style="position:relative;top:-0.8px;left:0px">485</span></div>
<div style="left:1470.8px;top:1751.28px;width:146px;height:52.96px;-webkit-text-stroke:0.4px #222;display:flex;justify-content:center;align-items:flex-end;text-align:center;font-size:33.2px;line-height:38.16px;color:#222;padding:0 10px 0px 10px;box-sizing:border-box;white-space:nowrap;overflow:visible;font-weight:bold;"><span style="position:relative;top:-0.8px;left:0px">38.14%</span></div>
<div style="left:1616.8px;top:1751.28px;width:146px;height:52.96px;-webkit-text-stroke:0.4px #222;display:flex;justify-content:flex-end;align-items:flex-end;text-align:right;font-size:33.2px;line-height:38.16px;color:#222;padding:0 6.4px 0px 6.4px;box-sizing:border-box;white-space:nowrap;overflow:visible;font-weight:bold;"><span style="position:relative;top:-0.8px;left:0px">114</span></div>
<div style="left:1762.8px;top:1751.28px;width:146px;height:52.96px;-webkit-text-stroke:0.4px #222;display:flex;justify-content:flex-end;align-items:flex-end;text-align:right;font-size:33.2px;line-height:38.16px;color:#222;padding:0 6.4px 0px 6.4px;box-sizing:border-box;white-space:nowrap;overflow:visible;font-weight:bold;"><span style="position:relative;top:-0.8px;left:0px">185</span></div>
<div style="left:1908.8px;top:1751.28px;width:145.6px;height:52.96px;-webkit-text-stroke:0.4px #222;display:flex;justify-content:flex-end;align-items:flex-end;text-align:right;font-size:33.2px;line-height:38.16px;color:#222;padding:0 6.4px 0px 6.4px;box-sizing:border-box;white-space:nowrap;overflow:visible;font-weight:bold;"><span style="position:relative;top:-0.8px;left:0px">58</span></div>
<div style="left:2054.4px;top:1751.28px;width:146px;height:52.96px;-webkit-text-stroke:0.4px #222;display:flex;justify-content:flex-end;align-items:flex-end;text-align:right;font-size:33.2px;line-height:38.16px;color:#222;padding:0 6.4px 0px 6.4px;box-sizing:border-box;white-space:nowrap;overflow:visible;font-weight:bold;"><span style="position:relative;top:-0.8px;left:0px">56</span></div>
<div style="left:2200.4px;top:1751.28px;width:146px;height:52.96px;-webkit-text-stroke:0.4px #222;display:flex;justify-content:flex-end;align-items:flex-end;text-align:right;font-size:33.2px;line-height:38.16px;color:#222;padding:0 6.4px 0px 6.4px;box-sizing:border-box;white-space:nowrap;overflow:visible;font-weight:bold;"><span style="position:relative;top:-0.8px;left:0px">101</span></div>
<div style="left:2346.4px;top:1751.28px;width:145.6px;height:52.96px;-webkit-text-stroke:0.4px #222;display:flex;justify-content:flex-end;align-items:flex-end;text-align:right;font-size:33.2px;line-height:38.16px;color:#222;padding:0 6.4px 0px 6.4px;box-sizing:border-box;white-space:nowrap;overflow:visible;font-weight:bold;"><span style="position:relative;top:-0.8px;left:0px">8</span></div>
<div style="left:2492px;top:1751.28px;width:146px;height:52.96px;-webkit-text-stroke:0.4px #222;display:flex;justify-content:flex-end;align-items:flex-end;text-align:right;font-size:33.2px;line-height:38.16px;color:#222;padding:0 6.4px 0px 6.4px;box-sizing:border-box;white-space:nowrap;overflow:visible;font-weight:bold;"><span style="position:relative;top:-0.8px;left:0px">5</span></div>
<div style="left:2638px;top:1751.28px;width:146px;height:52.96px;-webkit-text-stroke:0.4px #222;display:flex;justify-content:flex-end;align-items:flex-end;text-align:right;font-size:33.2px;line-height:38.16px;color:#222;padding:0 6.4px 0px 6.4px;box-sizing:border-box;white-space:nowrap;overflow:visible;font-weight:bold;"><span style="position:relative;top:-0.8px;left:0px">112</span></div>
<div style="left:2784px;top:1751.28px;width:145.6px;height:52.96px;-webkit-text-stroke:0.4px #222;display:flex;justify-content:flex-end;align-items:flex-end;text-align:right;font-size:33.2px;line-height:38.16px;color:#222;padding:0 6.4px 0px 6.4px;box-sizing:border-box;white-space:nowrap;overflow:visible;font-weight:bold;"><span style="position:relative;top:-0.8px;left:0px">2</span></div>
<div style="left:2929.6px;top:1751.28px;width:146px;height:52.96px;-webkit-text-stroke:0.4px #222;display:flex;justify-content:flex-end;align-items:flex-end;text-align:right;font-size:33.2px;line-height:38.16px;color:#222;padding:0 6.4px 0px 6.4px;box-sizing:border-box;white-space:nowrap;overflow:visible;font-weight:bold;"><span style="position:relative;top:-0.8px;left:0px">3</span></div>
<div style="left:3075.6px;top:1751.28px;width:145.6px;height:52.96px;-webkit-text-stroke:0.4px #222;display:flex;justify-content:flex-end;align-items:flex-end;text-align:right;font-size:33.2px;line-height:38.16px;color:#222;padding:0 6.4px 0px 6.4px;box-sizing:border-box;white-space:nowrap;overflow:visible;font-weight:bold;"><span style="position:relative;top:-0.8px;left:0px">111</span></div>
<div style="left:3221.2px;top:1751.28px;width:146px;height:52.96px;-webkit-text-stroke:0.4px #222;display:flex;justify-content:center;align-items:flex-end;text-align:center;font-size:33.2px;line-height:38.16px;color:#222;padding:0 10px 0px 10px;box-sizing:border-box;white-space:nowrap;overflow:visible;font-weight:bold;"><span style="position:relative;top:-0.8px;left:0px">0.38%</span></div>
<div style="left:0px;top:452px;width:3840px;height:60px;background:#ffffff"></div>
<div style="left:86px;top:452px;width:62.8px;height:60px;background:#d3e3fd"></div>
<div style="left:0px;top:450px;width:3840px;height:4px;background:#d0d0d0"></div>
<div style="left:0px;top:510px;width:3840px;height:4px;background:#c8c8c8"></div>
<div style="left:86px;top:509.2px;width:62.8px;height:4px;background:#7aa7ea"></div>
<div style="left:82.8px;top:452px;width:4px;height:60px;background:#cfcfcf"></div>
<div style="left:146.8px;top:452px;width:4px;height:60px;background:#cfcfcf"></div>
<div style="left:210.4px;top:452px;width:4px;height:60px;background:#cfcfcf"></div>
<div style="left:616.8px;top:452px;width:4px;height:60px;background:#cfcfcf"></div>
<div style="left:1011.6px;top:452px;width:4px;height:60px;background:#cfcfcf"></div>
<div style="left:1177.2px;top:452px;width:4px;height:60px;background:#cfcfcf"></div>
<div style="left:1323.2px;top:452px;width:4px;height:60px;background:#cfcfcf"></div>
<div style="left:1468.8px;top:452px;width:4px;height:60px;background:#cfcfcf"></div>
<div style="left:1614.8px;top:452px;width:4px;height:60px;background:#cfcfcf"></div>
<div style="left:1760.8px;top:452px;width:4px;height:60px;background:#cfcfcf"></div>
<div style="left:1906.8px;top:452px;width:4px;height:60px;background:#cfcfcf"></div>
<div style="left:2052.4px;top:452px;width:4px;height:60px;background:#cfcfcf"></div>
<div style="left:2198.4px;top:452px;width:4px;height:60px;background:#cfcfcf"></div>
<div style="left:2344.4px;top:452px;width:4px;height:60px;background:#cfcfcf"></div>
<div style="left:2490px;top:452px;width:4px;height:60px;background:#cfcfcf"></div>
<div style="left:2636px;top:452px;width:4px;height:60px;background:#cfcfcf"></div>
<div style="left:2782px;top:452px;width:4px;height:60px;background:#cfcfcf"></div>
<div style="left:2927.6px;top:452px;width:4px;height:60px;background:#cfcfcf"></div>
<div style="left:3073.6px;top:452px;width:4px;height:60px;background:#cfcfcf"></div>
<div style="left:3219.2px;top:452px;width:4px;height:60px;background:#cfcfcf"></div>
<div style="left:3365.2px;top:452px;width:4px;height:60px;background:#cfcfcf"></div>
<div style="left:3456px;top:452px;width:4px;height:60px;background:#cfcfcf"></div>
<div style="left:3708.8px;top:452px;width:4px;height:60px;background:#cfcfcf"></div>
<div style="left:84.8px;top:452px;width:64px;height:60px;font-size:25.6px;line-height:60px;text-align:center;color:#1f3a6e;font-weight:bold;">A</div>
<div style="left:148.8px;top:452px;width:63.6px;height:60px;font-size:25.6px;line-height:60px;text-align:center;color:#777;">B</div>
<div style="left:212.4px;top:452px;width:406.4px;height:60px;font-size:25.6px;line-height:60px;text-align:center;color:#777;">C</div>
<div style="left:618.8px;top:452px;width:394.8px;height:60px;font-size:25.6px;line-height:60px;text-align:center;color:#777;">D</div>
<div style="left:1013.6px;top:452px;width:165.6px;height:60px;font-size:25.6px;line-height:60px;text-align:center;color:#777;">E</div>
<div style="left:1179.2px;top:452px;width:146px;height:60px;font-size:25.6px;line-height:60px;text-align:center;color:#777;">H</div>
<div style="left:1325.2px;top:452px;width:145.6px;height:60px;font-size:25.6px;line-height:60px;text-align:center;color:#777;">I</div>
<div style="left:1470.8px;top:452px;width:146px;height:60px;font-size:25.6px;line-height:60px;text-align:center;color:#777;">K</div>
<div style="left:1616.8px;top:452px;width:146px;height:60px;font-size:25.6px;line-height:60px;text-align:center;color:#777;">N</div>
<div style="left:1762.8px;top:452px;width:146px;height:60px;font-size:25.6px;line-height:60px;text-align:center;color:#777;">O</div>
<div style="left:1908.8px;top:452px;width:145.6px;height:60px;font-size:25.6px;line-height:60px;text-align:center;color:#777;">T</div>
<div style="left:2054.4px;top:452px;width:146px;height:60px;font-size:25.6px;line-height:60px;text-align:center;color:#777;">U</div>
<div style="left:2200.4px;top:452px;width:146px;height:60px;font-size:25.6px;line-height:60px;text-align:center;color:#777;">AA</div>
<div style="left:2346.4px;top:452px;width:145.6px;height:60px;font-size:25.6px;line-height:60px;text-align:center;color:#777;">AB</div>
<div style="left:2492px;top:452px;width:146px;height:60px;font-size:25.6px;line-height:60px;text-align:center;color:#777;">AC</div>
<div style="left:2638px;top:452px;width:146px;height:60px;font-size:25.6px;line-height:60px;text-align:center;color:#777;">AI</div>
<div style="left:2784px;top:452px;width:145.6px;height:60px;font-size:25.6px;line-height:60px;text-align:center;color:#777;">AJ</div>
<div style="left:2929.6px;top:452px;width:146px;height:60px;font-size:25.6px;line-height:60px;text-align:center;color:#777;">AP</div>
<div style="left:3075.6px;top:452px;width:145.6px;height:60px;font-size:25.6px;line-height:60px;text-align:center;color:#777;">AQ</div>
<div style="left:3221.2px;top:452px;width:146px;height:60px;font-size:25.6px;line-height:60px;text-align:center;color:#777;">AU</div>
<div style="left:3367.2px;top:452px;width:90.8px;height:60px;font-size:25.6px;line-height:60px;text-align:center;color:#777;">AV</div>
<div style="left:3458px;top:452px;width:252.8px;height:60px;font-size:25.6px;line-height:60px;text-align:center;color:#777;">AW</div>
<div style="left:3710.8px;top:452px;width:249.2px;height:60px;font-size:25.6px;line-height:60px;text-align:center;color:#777;">AX</div>
<svg style="left:3197.6px;top:477.6px;width:12.8px;height:17.6px" viewBox="0 0 3.2 4.4"><path d="M3.2 0 L0 2.2 L3.2 4.4Z" fill="#3c3c3c"/></svg>
<svg style="left:3233.2px;top:477.6px;width:12.8px;height:17.6px" viewBox="0 0 3.2 4.4"><path d="M0 0 L3.2 2.2 L0 4.4Z" fill="#3c3c3c"/></svg>
<svg style="left:1885.2px;top:477.6px;width:12.8px;height:17.6px" viewBox="0 0 3.2 4.4"><path d="M3.2 0 L0 2.2 L3.2 4.4Z" fill="#3c3c3c"/></svg>
<svg style="left:1920.8px;top:477.6px;width:12.8px;height:17.6px" viewBox="0 0 3.2 4.4"><path d="M0 0 L3.2 2.2 L0 4.4Z" fill="#3c3c3c"/></svg>
<svg style="left:2614.4px;top:477.6px;width:12.8px;height:17.6px" viewBox="0 0 3.2 4.4"><path d="M3.2 0 L0 2.2 L3.2 4.4Z" fill="#3c3c3c"/></svg>
<svg style="left:2650px;top:477.6px;width:12.8px;height:17.6px" viewBox="0 0 3.2 4.4"><path d="M0 0 L3.2 2.2 L0 4.4Z" fill="#3c3c3c"/></svg>
<svg style="left:2906px;top:477.6px;width:12.8px;height:17.6px" viewBox="0 0 3.2 4.4"><path d="M3.2 0 L0 2.2 L3.2 4.4Z" fill="#3c3c3c"/></svg>
<svg style="left:2941.6px;top:477.6px;width:12.8px;height:17.6px" viewBox="0 0 3.2 4.4"><path d="M0 0 L3.2 2.2 L0 4.4Z" fill="#3c3c3c"/></svg>
<svg style="left:1447.2px;top:477.6px;width:12.8px;height:17.6px" viewBox="0 0 3.2 4.4"><path d="M3.2 0 L0 2.2 L3.2 4.4Z" fill="#3c3c3c"/></svg>
<svg style="left:1482.8px;top:477.6px;width:12.8px;height:17.6px" viewBox="0 0 3.2 4.4"><path d="M0 0 L3.2 2.2 L0 4.4Z" fill="#3c3c3c"/></svg>
<svg style="left:1155.6px;top:477.6px;width:12.8px;height:17.6px" viewBox="0 0 3.2 4.4"><path d="M3.2 0 L0 2.2 L3.2 4.4Z" fill="#3c3c3c"/></svg>
<svg style="left:1191.2px;top:477.6px;width:12.8px;height:17.6px" viewBox="0 0 3.2 4.4"><path d="M0 0 L3.2 2.2 L0 4.4Z" fill="#3c3c3c"/></svg>
<svg style="left:1593.2px;top:477.6px;width:12.8px;height:17.6px" viewBox="0 0 3.2 4.4"><path d="M3.2 0 L0 2.2 L3.2 4.4Z" fill="#3c3c3c"/></svg>
<svg style="left:1628.8px;top:477.6px;width:12.8px;height:17.6px" viewBox="0 0 3.2 4.4"><path d="M0 0 L3.2 2.2 L0 4.4Z" fill="#3c3c3c"/></svg>
<svg style="left:2176.8px;top:477.6px;width:12.8px;height:17.6px" viewBox="0 0 3.2 4.4"><path d="M3.2 0 L0 2.2 L3.2 4.4Z" fill="#3c3c3c"/></svg>
<svg style="left:2212.4px;top:477.6px;width:12.8px;height:17.6px" viewBox="0 0 3.2 4.4"><path d="M0 0 L3.2 2.2 L0 4.4Z" fill="#3c3c3c"/></svg>
<div style="left:0px;top:512px;width:84.8px;height:1398.16px;background:#fff"></div>
<div style="left:82.8px;top:512px;width:4px;height:1398.16px;background:#cfcfcf"></div>
<div style="left:0px;top:512px;width:82.8px;height:48.4px;background:#d3e3fd"></div>
<div style="left:0px;top:558.4px;width:84.8px;height:4px;background:#dcdcdc"></div>
<div style="left:-28px;top:513.6px;width:112px;height:48.4px;font-size:25.6px;line-height:48.4px;text-align:center;color:#1f3a6e;font-weight:bold;">1</div>
<div style="left:0px;top:603.6px;width:84.8px;height:4px;background:#dcdcdc"></div>
<div style="left:-28px;top:562px;width:112px;height:45.2px;font-size:25.6px;line-height:45.2px;text-align:center;color:#6a6a6a;">2</div>
<div style="left:0px;top:682.8px;width:84.8px;height:4px;background:#dcdcdc"></div>
<div style="left:-28px;top:607.2px;width:112px;height:79.2px;font-size:25.6px;line-height:79.2px;text-align:center;color:#6a6a6a;">3</div>
<div style="left:0px;top:763.2px;width:84.8px;height:4px;background:#dcdcdc"></div>
<div style="left:-28px;top:686.4px;width:112px;height:80.4px;font-size:25.6px;line-height:80.4px;text-align:center;color:#6a6a6a;">4</div>
<div style="left:0px;top:935.2px;width:84.8px;height:4px;background:#dcdcdc"></div>
<div style="left:-28px;top:766.8px;width:112px;height:172px;font-size:25.6px;line-height:172px;text-align:center;color:#6a6a6a;">5</div>
<div style="left:0px;top:1060.8px;width:84.8px;height:4px;background:#dcdcdc"></div>
<div style="left:-28px;top:938.8px;width:112px;height:125.6px;font-size:25.6px;line-height:125.6px;text-align:center;color:#6a6a6a;">7</div>
<div style="left:0px;top:1113.76px;width:84.8px;height:4px;background:#dcdcdc"></div>
<div style="left:-28px;top:1064.4px;width:112px;height:52.96px;font-size:25.6px;line-height:52.96px;text-align:center;color:#6a6a6a;">8</div>
<div style="left:0px;top:1166.72px;width:84.8px;height:4px;background:#dcdcdc"></div>
<div style="left:-28px;top:1117.36px;width:112px;height:52.96px;font-size:25.6px;line-height:52.96px;text-align:center;color:#6a6a6a;">9</div>
<div style="left:0px;top:1219.68px;width:84.8px;height:4px;background:#dcdcdc"></div>
<div style="left:-28px;top:1170.32px;width:112px;height:52.96px;font-size:25.6px;line-height:52.96px;text-align:center;color:#6a6a6a;">10</div>
<div style="left:0px;top:1272.64px;width:84.8px;height:4px;background:#dcdcdc"></div>
<div style="left:-28px;top:1223.28px;width:112px;height:52.96px;font-size:25.6px;line-height:52.96px;text-align:center;color:#6a6a6a;">11</div>
<div style="left:0px;top:1325.6px;width:84.8px;height:4px;background:#dcdcdc"></div>
<div style="left:-28px;top:1276.24px;width:112px;height:52.96px;font-size:25.6px;line-height:52.96px;text-align:center;color:#6a6a6a;">12</div>
<div style="left:0px;top:1378.56px;width:84.8px;height:4px;background:#dcdcdc"></div>
<div style="left:-28px;top:1329.2px;width:112px;height:52.96px;font-size:25.6px;line-height:52.96px;text-align:center;color:#6a6a6a;">13</div>
<div style="left:0px;top:1431.52px;width:84.8px;height:4px;background:#dcdcdc"></div>
<div style="left:-28px;top:1382.16px;width:112px;height:52.96px;font-size:25.6px;line-height:52.96px;text-align:center;color:#6a6a6a;">14</div>
<div style="left:0px;top:1484.48px;width:84.8px;height:4px;background:#dcdcdc"></div>
<div style="left:-28px;top:1435.12px;width:112px;height:52.96px;font-size:25.6px;line-height:52.96px;text-align:center;color:#6a6a6a;">15</div>
<div style="left:0px;top:1537.44px;width:84.8px;height:4px;background:#dcdcdc"></div>
<div style="left:-28px;top:1488.08px;width:112px;height:52.96px;font-size:25.6px;line-height:52.96px;text-align:center;color:#6a6a6a;">16</div>
<div style="left:0px;top:1590.4px;width:84.8px;height:4px;background:#dcdcdc"></div>
<div style="left:-28px;top:1541.04px;width:112px;height:52.96px;font-size:25.6px;line-height:52.96px;text-align:center;color:#6a6a6a;">17</div>
<div style="left:0px;top:1643.36px;width:84.8px;height:4px;background:#dcdcdc"></div>
<div style="left:-28px;top:1594px;width:112px;height:52.96px;font-size:25.6px;line-height:52.96px;text-align:center;color:#6a6a6a;">18</div>
<div style="left:0px;top:1696.32px;width:84.8px;height:4px;background:#dcdcdc"></div>
<div style="left:-28px;top:1646.96px;width:112px;height:52.96px;font-size:25.6px;line-height:52.96px;text-align:center;color:#6a6a6a;">19</div>
<div style="left:0px;top:1749.28px;width:84.8px;height:4px;background:#dcdcdc"></div>
<div style="left:-28px;top:1699.92px;width:112px;height:52.96px;font-size:25.6px;line-height:52.96px;text-align:center;color:#6a6a6a;">20</div>
<div style="left:0px;top:1802.24px;width:84.8px;height:4px;background:#dcdcdc"></div>
<div style="left:-28px;top:1752.88px;width:112px;height:52.96px;font-size:25.6px;line-height:52.96px;text-align:center;color:#6a6a6a;">21</div>
<div style="left:0px;top:1855.2px;width:84.8px;height:4px;background:#dcdcdc"></div>
<div style="left:-28px;top:1805.84px;width:112px;height:52.96px;font-size:25.6px;line-height:52.96px;text-align:center;color:#6a6a6a;">22</div>
<div style="left:0px;top:1908.16px;width:84.8px;height:4px;background:#dcdcdc"></div>
<div style="left:-28px;top:1858.8px;width:112px;height:52.96px;font-size:25.6px;line-height:52.96px;text-align:center;color:#6a6a6a;">23</div>
<div style="left:0px;top:452px;width:82px;height:56.8px;background:#f8f9fa"></div>
<div style="left:80px;top:452px;width:6px;height:60px;background:#c4c4c4"></div>
<div style="left:0px;top:507.2px;width:86px;height:6px;background:#c4c4c4"></div>
<div style="left:86.8px;top:516.4px;width:63.2px;height:44.8px;box-sizing:border-box;border:6.4px solid #1f6ddd;background:#fff"></div>
</div></div>
<div id="top">
 <div style="left:0;top:0;width:960px;height:80px;background:#f9fbfd"></div>
 <div style="left:20px;top:-8px;width:30px;height:9.5px;background:#20a464;border-radius:2px"></div>
 <div class="menu" style="left:70px">File</div>
 <div class="menu" style="left:117px">Edit</div>
 <div class="menu" style="left:169px">View</div>
 <div class="menu dim" style="left:224px">Insert</div>
 <div class="menu dim" style="left:289px">Format</div>
 <div class="menu" style="left:366px">Data</div>
 <div class="menu" style="left:425px">Tools</div>
 <div class="menu" style="left:486px">Help</div>
 <div style="left:13px;top:20px;width:1000px;height:49.4px;background:#ecf0f9;border-radius:24.7px"></div>
 <!-- search -->
 <svg style="left:36px;top:33px" width="22" height="22" viewBox="0 0 22 22"><circle cx="8.3" cy="8.3" r="5.4" fill="none" stroke="#444746" stroke-width="1.9"/><path d="M12.3 12.3 L18.2 18.2" stroke="#444746" stroke-width="2" stroke-linecap="butt"/></svg>
 <!-- printer -->
 <svg style="left:77px;top:35px" width="23" height="20" viewBox="0 0 23 20"><path d="M6.1 6.5 V2.1 H16.6 V6.5" fill="none" stroke="#444746" stroke-width="1.9"/><rect x="2.1" y="6.9" width="18.6" height="7.6" rx="2.4" fill="none" stroke="#444746" stroke-width="1.9"/><rect x="6.1" y="12.2" width="10.5" height="4.9" fill="#ecf0f9" stroke="#444746" stroke-width="1.9"/><circle cx="17" cy="9.6" r="0.9" fill="#444746"/></svg>
 <!-- table/format icon -->
 <svg style="left:113px;top:34px" width="23" height="22" viewBox="0 0 23 22"><path d="M1.9 16 V3.5 Q1.9 1.9 3.5 1.9 H16.5" fill="none" stroke="#444746" stroke-width="1.7"/><rect x="4.8" y="4.8" width="16.4" height="16" rx="2" fill="#444746"/><rect x="6.8" y="6.8" width="12.4" height="3.2" fill="#ecf0f9"/><g fill="#ecf0f9"><rect x="6.8" y="12.2" width="2.8" height="2.1"/><rect x="11.8" y="12.2" width="2.4" height="2.1"/><rect x="16.4" y="12.2" width="2.8" height="2.1"/><rect x="6.8" y="16.5" width="2.8" height="2.1"/><rect x="11.8" y="16.5" width="2.4" height="2.1"/><rect x="16.4" y="16.5" width="2.8" height="2.1"/></g></svg>
 <svg style="left:142px;top:42.3px" width="10" height="5.5" viewBox="0 0 10 5.5"><path d="M0 0 H10 L5 5.5Z" fill="#444746"/></svg>
 <div style="left:168.5px;top:34px;font-size:18.3px;line-height:24px;color:#444746;letter-spacing:0.5px;-webkit-text-stroke:0.3px #444746">50%</div>
 <svg style="left:230.5px;top:42px" width="11" height="5.5" viewBox="0 0 11 5.5"><path d="M0 0 H11 L5.5 5.5Z" fill="#444746"/></svg>
 <!-- formula bar -->
 <div style="left:0;top:79.9px;width:960px;height:33.1px;background:#fff"></div>
 <div style="left:126px;top:80px;width:41px;height:32px;background:#f8f9fa"></div>
 <div style="left:10.5px;top:83px;font-size:15.2px;line-height:24px;color:#1f1f1f;letter-spacing:-0.9px">A1</div>
 <svg style="left:100px;top:94px" width="9.6" height="5" viewBox="0 0 9.6 5"><path d="M0 0 H9.6 L4.8 5Z" fill="#444746"/></svg>
 <div style="left:124px;top:87.5px;width:1.3px;height:19.5px;background:#c4c7c5"></div>
 <div style="left:139.5px;top:83px;width:22px;font-family:'Liberation Serif',serif;font-style:italic;font-weight:bold;font-size:19px;line-height:26px;color:#a9a9a9;letter-spacing:0px">fx</div>
</div>
<div id="bottom" style="top:478px;height:62px;">
 <div style="left:0;top:0;width:960px;height:17px;background:#fff"></div>
 <div style="left:0;top:0;width:21px;height:16.5px;background:#f8f9fa"></div>
 <div style="left:0;top:1.5px;width:960px;height:1px;background:#e1e1e1"></div>
 <div style="left:20.5px;top:0;width:1px;height:16.5px;background:#c8c8c8"></div>
 <div style="left:23.7px;top:4px;width:960px;height:11.3px;background:#dadce0;border-radius:5.6px"></div>
 <div style="left:0;top:16.2px;width:960px;height:1px;background:#d9d9d9"></div>
 <div style="left:0;top:17px;width:960px;height:45px;background:#f9fbfd"></div>
 <div id="tabs" style="left:0;top:17px;width:960px;height:45px;">
  <div style="left:60px;top:17.3px;width:18.3px;height:2px;background:#444746"></div>
  <div style="left:60px;top:22.6px;width:18.3px;height:2px;background:#444746"></div>
  <div style="left:60px;top:27.9px;width:18.3px;height:2px;background:#444746"></div>
  <div class="tab" style="left:124px;letter-spacing:0.93px">Monitoring_Sulawesi</div>
  <svg style="left:314.5px;top:22px" width="10" height="5" viewBox="0 0 10 5"><path d="M0 0 H10 L5 5Z" fill="#444746"/></svg>
  <div class="tab" style="left:354.3px">Monitoring_Kalimantan</div>
  <svg style="left:565.5px;top:22px" width="10" height="5" viewBox="0 0 10 5"><path d="M0 0 H10 L5 5Z" fill="#444746"/></svg>
  <div class="tab" style="left:605.6px">Detai TM</div>
  <svg style="left:694.5px;top:22px" width="10" height="5" viewBox="0 0 10 5"><path d="M0 0 H10 L5 5Z" fill="#444746"/></svg>
  <div style="left:718.8px;top:0.8px;width:211.7px;height:45px;background:#e1e9f7"></div>
  <div style="left:930.5px;top:0.8px;width:30px;height:45px;background:#fdfdfe"></div>
  <div class="tab" style="left:734.5px;color:#185abc;font-weight:bold;font-size:18px;letter-spacing:0.2px;-webkit-text-stroke:0;">Summary SULTAN</div>
  <svg style="left:906px;top:22px" width="10" height="5" viewBox="0 0 10 5"><path d="M0 0 H10 L5 5Z" fill="#185abc"/></svg>
 </div>
</div>
</body></html>
